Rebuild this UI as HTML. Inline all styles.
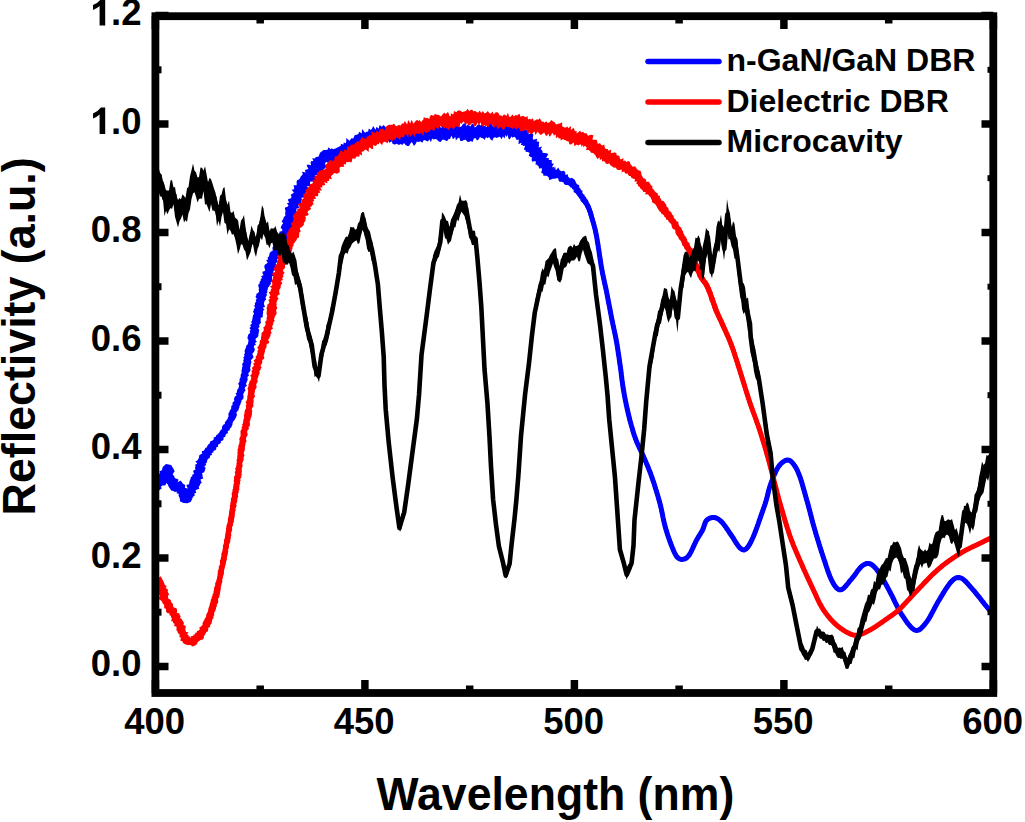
<!DOCTYPE html>
<html><head><meta charset="utf-8"><style>
html,body{margin:0;padding:0;background:#fff;}
svg{display:block;}
text{font-family:"Liberation Sans",sans-serif;font-weight:bold;fill:#000;}
.tk{font-size:36.5px;}
.lg{font-size:32px;}
</style></head><body>
<svg width="1025" height="822" viewBox="0 0 1025 822">
<rect width="1025" height="822" fill="#fff"/>
<g clip-path="url(#c)">
<polyline points="155.5,488.0 156.0,487.0 156.9,485.7 158.2,484.1 159.6,482.1 161.0,480.0 162.2,477.9 163.5,475.3 164.8,472.8 166.0,470.8 167.0,470.0 167.9,471.0 168.5,473.4 169.1,476.4 170.0,479.0 171.2,481.0 172.6,483.0 174.1,484.7 175.5,486.0 178.0,486.2 180.4,487.0 181.2,488.5 181.9,490.7 182.7,493.2 183.5,495.5 184.3,497.3 185.3,498.0 186.4,497.6 187.6,496.4 188.9,494.7 190.2,492.6 191.4,490.3 192.6,488.0 193.4,486.3 194.2,484.4 195.0,482.3 195.8,480.2 196.5,478.0 197.2,475.9 197.9,473.9 198.6,472.0 199.4,469.6 200.1,467.4 200.7,465.2 201.4,463.0 202.1,461.0 203.0,459.0 204.0,457.1 205.1,455.4 206.3,453.7 207.6,452.0 208.9,450.3 210.3,448.5 211.6,446.9 213.0,445.2 214.4,443.6 215.9,441.9 217.4,440.2 218.8,438.5 220.1,436.8 221.3,435.1 222.5,433.5 223.7,431.9 224.8,430.2 225.9,428.6 226.9,426.9 227.9,425.1 228.8,423.3 229.7,421.4 230.5,419.5 231.3,417.6 232.1,415.6 232.9,413.6 233.7,411.5 234.4,409.7 235.2,407.8 235.9,406.0 236.7,404.1 237.4,402.1 238.1,400.1 238.8,398.1 239.5,395.9 240.0,394.1 240.6,392.2 241.1,390.3 241.6,388.4 242.1,386.4 242.6,384.4 243.0,382.4 243.5,380.4 244.0,378.4 244.4,376.4 244.9,374.2 245.3,372.0 245.8,369.9 246.2,367.7 246.6,365.5 247.0,363.3 247.5,361.2 247.9,359.1 248.3,357.0 248.8,354.7 249.3,352.5 249.7,350.4 250.2,348.3 250.7,346.1 251.2,344.0 251.7,341.8 252.2,339.5 252.7,337.5 253.1,335.5 253.5,333.4 254.0,331.4 254.5,329.3 254.9,327.2 255.4,324.9 255.9,322.5 256.5,320.0 256.9,318.3 257.3,316.4 257.7,314.5 258.1,312.5 258.5,310.4 258.9,308.3 259.4,306.2 259.8,304.1 260.3,302.0 260.7,299.9 261.2,297.9 261.6,296.0 262.1,294.1 262.5,292.4 263.1,290.1 263.7,287.9 264.4,285.9 265.0,283.9 265.6,282.0 266.2,280.2 266.9,278.3 267.5,276.5 268.1,274.7 268.7,272.9 269.4,270.8 270.0,268.7 270.6,266.7 271.2,264.6 271.9,262.6 272.5,260.6 273.2,258.8 273.9,257.0 274.6,255.4 275.9,253.2 277.3,251.3 278.7,249.5 280.1,248.0 281.4,246.5 282.4,245.0 283.6,242.9 284.2,241.1 285.0,238.0 285.4,236.4 285.7,234.5 286.1,232.4 286.5,230.1 286.9,227.8 287.3,225.4 287.8,223.0 288.3,220.6 288.9,218.4 289.5,216.4 290.1,214.3 290.8,212.2 291.5,210.1 292.3,208.0 293.0,206.0 293.8,204.0 294.5,202.2 295.1,200.5 295.7,199.0 296.9,196.1 297.9,193.9 298.8,192.1 300.0,190.0 300.9,188.4 301.8,186.8 302.7,185.2 303.8,183.5 305.0,181.6 306.4,179.5 307.4,178.1 308.6,176.5 309.8,174.8 311.2,173.0 312.5,171.2 313.9,169.5 315.2,167.8 316.5,166.2 317.7,164.7 318.7,163.5 320.6,161.1 322.0,159.5 323.4,158.2 325.3,157.0 326.9,156.3 328.7,155.8 330.6,155.4 332.6,155.0 334.8,154.4 337.0,153.5 338.6,152.7 340.3,151.8 342.1,150.8 344.0,149.7 345.9,148.6 347.7,147.5 349.5,146.4 351.1,145.4 352.6,144.5 354.8,143.1 356.6,141.8 358.3,140.6 360.1,139.6 362.3,138.5 364.0,137.8 365.9,137.2 368.0,136.5 370.1,135.9 372.2,135.4 374.3,134.8 376.2,134.4 377.9,134.0 380.7,133.4 383.1,133.0 385.3,132.8 387.6,133.0 389.4,133.5 391.1,134.4 392.9,135.4 394.9,136.4 397.3,137.0 399.2,137.2 401.3,137.4 403.5,137.4 405.9,137.4 408.3,137.4 410.7,137.3 412.8,137.2 414.8,137.0 417.1,136.6 419.1,136.1 420.9,135.5 422.7,134.9 424.5,134.4 426.5,134.0 428.7,133.8 430.9,133.8 433.2,133.9 435.6,134.0 437.8,134.0 440.0,133.8 442.0,133.4 443.9,132.9 445.7,132.2 447.6,131.6 449.5,131.1 451.7,130.9 453.7,130.9 455.8,131.2 457.9,131.5 460.1,131.9 462.5,132.3 464.8,132.6 467.3,132.8 469.3,132.8 471.5,132.8 473.8,132.7 476.1,132.5 478.4,132.4 480.7,132.2 482.8,132.1 484.9,131.9 486.7,131.8 489.5,131.6 491.9,131.4 494.1,131.3 496.2,131.1 498.4,130.9 500.7,130.6 503.1,130.2 505.4,129.8 507.8,129.7 510.1,129.9 512.1,130.5 514.1,131.3 516.2,132.3 518.2,133.4 520.1,134.6 521.8,135.7 523.6,137.0 525.3,138.2 526.7,139.6 528.1,141.0 529.5,142.6 530.8,144.4 532.0,146.4 533.1,148.4 534.2,150.4 535.4,152.3 536.6,153.9 537.9,155.3 539.1,156.6 540.5,158.2 542.0,160.0 543.2,161.7 544.5,163.7 545.9,165.8 547.2,168.0 548.6,170.0 550.0,171.7 551.3,173.0 553.5,174.1 555.6,174.2 557.6,174.1 559.5,174.5 561.2,175.6 562.7,177.0 564.3,178.5 566.0,180.0 568.0,181.3 570.1,182.5 572.2,183.8 574.2,185.5 575.6,187.1 576.8,188.9 578.0,190.9 579.2,192.9 580.5,195.0 581.7,196.8 583.0,198.6 584.4,200.5 585.7,202.4 586.9,204.4 588.0,206.5 588.8,208.3 589.5,210.1 590.2,212.0 590.8,213.9 591.3,215.9 591.9,217.9 592.5,220.0 593.0,221.8 593.5,223.4 594.0,225.1 594.4,226.8 594.9,228.6 595.4,230.7 595.9,233.2 596.5,236.0 596.8,237.6 597.1,239.4 597.4,241.3 597.7,243.3 598.1,245.4 598.4,247.6 598.8,249.9 599.1,252.1 599.4,254.4 599.8,256.7 600.1,259.0 600.5,261.2 600.8,263.3 601.1,265.4 601.5,267.4 601.8,269.2 602.3,271.7 602.7,274.0 603.2,276.2 603.6,278.4 604.1,280.4 604.5,282.4 604.9,284.4 605.4,286.3 605.8,288.4 606.3,290.4 606.7,292.6 607.1,294.6 607.5,296.7 607.9,298.8 608.3,301.0 608.7,303.1 609.2,305.3 609.6,307.4 610.0,309.5 610.4,311.7 610.8,313.8 611.2,315.9 611.6,317.9 612.0,320.1 612.5,322.2 612.9,324.3 613.4,326.4 613.8,328.5 614.3,330.6 614.7,332.7 615.2,334.8 615.6,336.9 616.0,339.0 616.4,341.2 616.8,343.2 617.1,345.3 617.5,347.4 617.8,349.6 618.1,351.7 618.4,353.8 618.8,356.0 619.1,358.1 619.4,360.3 619.7,362.4 620.0,364.4 620.3,366.5 620.6,368.7 620.9,370.9 621.2,373.0 621.4,375.1 621.7,377.2 621.9,379.3 622.2,381.4 622.5,383.5 622.8,385.6 623.1,387.8 623.5,390.0 623.9,392.1 624.2,394.1 624.6,396.2 625.0,398.4 625.4,400.5 625.9,402.7 626.3,404.8 626.8,406.9 627.2,409.1 627.7,411.2 628.2,413.3 628.7,415.3 629.2,417.3 629.7,419.4 630.2,421.4 630.8,423.4 631.3,425.4 631.9,427.4 632.5,429.3 633.0,431.3 633.6,433.2 634.2,435.1 634.9,436.9 635.5,438.7 636.3,440.8 637.1,442.8 638.0,444.8 638.9,446.7 639.8,448.6 640.7,450.5 641.6,452.4 642.5,454.3 643.4,456.2 644.2,458.1 645.0,460.0 645.8,461.9 646.6,463.8 647.4,465.6 648.2,467.5 648.9,469.4 649.7,471.3 650.5,473.3 651.2,475.4 652.0,477.6 652.6,479.4 653.2,481.2 653.9,483.1 654.5,485.0 655.1,487.0 655.7,489.0 656.4,491.0 657.0,493.1 657.6,495.1 658.2,497.1 658.7,499.1 659.3,501.0 659.8,502.9 660.4,505.1 660.9,507.3 661.4,509.5 661.8,511.6 662.3,513.7 662.7,515.9 663.1,518.0 663.6,520.0 664.0,522.0 664.5,524.0 665.0,526.0 665.6,528.1 666.2,530.3 666.9,532.4 667.5,534.5 668.2,536.5 668.9,538.5 669.6,540.4 670.2,542.2 670.9,544.0 671.5,545.6 672.5,548.1 673.5,550.4 674.4,552.6 675.4,554.4 676.3,556.0 677.3,557.3 679.3,558.9 681.2,559.4 683.2,559.2 685.1,558.8 686.9,557.7 689.0,555.3 689.9,553.9 690.9,552.1 691.9,550.0 692.9,547.9 693.9,545.6 694.9,543.5 695.9,541.4 696.8,539.7 698.1,537.4 699.4,535.4 700.5,533.6 701.6,531.8 702.6,530.0 703.4,528.0 704.1,525.8 704.8,523.8 705.5,521.9 706.5,520.4 708.2,519.0 710.2,518.0 712.3,517.5 714.3,517.5 716.2,518.0 718.1,518.9 720.0,520.4 722.1,522.4 723.2,523.7 724.4,525.2 725.7,526.9 726.9,528.8 728.2,530.6 729.4,532.5 730.6,534.3 731.8,536.0 733.1,537.9 734.3,539.9 735.5,541.8 736.7,543.7 737.9,545.4 739.0,546.9 740.0,548.0 742.1,549.6 744.0,550.0 746.0,549.0 747.1,547.9 748.2,546.5 749.4,544.7 750.6,542.5 751.8,540.0 753.1,537.2 753.8,535.6 754.5,533.8 755.3,531.8 756.1,529.7 756.9,527.5 757.7,525.2 758.5,523.0 759.2,520.8 760.0,518.6 760.7,516.6 761.3,514.8 761.9,513.1 762.9,510.3 763.7,508.0 764.4,506.0 765.0,504.2 765.6,502.2 766.3,500.0 766.8,498.2 767.3,496.3 767.8,494.4 768.2,492.4 768.7,490.4 769.3,488.4 769.9,486.4 770.6,484.3 771.3,482.4 772.1,480.3 772.9,478.2 773.8,476.1 774.7,473.9 775.6,471.9 776.5,470.0 777.5,468.3 778.4,466.8 780.1,464.6 781.9,462.8 783.8,461.4 785.6,460.4 787.2,460.0 789.1,460.2 790.8,461.2 792.4,462.8 794.0,464.8 795.0,466.3 796.0,467.9 797.0,469.7 797.9,471.8 798.8,474.0 799.8,476.5 800.4,478.2 801.0,480.0 801.6,481.9 802.2,484.0 802.8,486.1 803.4,488.2 804.0,490.3 804.6,492.3 805.1,494.2 805.6,496.0 806.2,498.2 806.8,500.3 807.4,502.1 807.9,504.0 808.4,505.8 808.9,507.8 809.5,510.0 810.0,511.8 810.4,513.6 810.9,515.5 811.4,517.4 811.9,519.4 812.4,521.4 813.0,523.6 813.7,526.0 814.4,528.5 814.9,530.2 815.5,532.1 816.0,534.0 816.6,536.0 817.3,538.1 817.9,540.2 818.6,542.3 819.2,544.5 819.9,546.7 820.6,548.8 821.2,550.9 821.9,553.0 822.6,555.0 823.2,556.9 823.9,559.1 824.7,561.3 825.4,563.6 826.1,565.8 826.9,568.0 827.6,570.2 828.3,572.3 829.1,574.3 829.8,576.2 830.5,577.9 831.3,579.5 832.0,581.0 833.4,583.6 834.8,585.8 836.2,587.6 837.6,588.9 839.1,589.7 840.7,589.8 842.2,589.3 843.7,588.2 845.3,586.6 846.9,584.7 848.5,582.7 850.1,580.6 851.7,578.8 853.0,577.2 854.4,575.5 855.7,573.7 857.0,571.8 858.3,570.1 859.6,568.5 860.8,567.1 862.0,566.0 864.2,564.5 866.3,563.6 868.4,563.4 870.5,564.0 872.0,564.8 873.4,566.0 874.9,567.5 876.4,569.2 877.9,571.3 879.5,573.5 880.5,575.0 881.5,576.6 882.5,578.2 883.5,580.0 884.6,581.9 885.6,583.8 886.7,585.8 887.8,587.9 888.9,589.9 890.0,592.0 890.9,593.8 891.9,595.7 892.9,597.6 893.8,599.6 894.8,601.7 895.8,603.7 896.8,605.7 897.8,607.7 898.9,609.7 899.9,611.6 900.9,613.3 902.0,615.0 903.3,616.9 904.6,618.9 906.0,620.9 907.3,622.8 908.7,624.5 910.1,626.2 911.4,627.6 912.8,628.8 914.1,629.7 915.3,630.2 917.3,630.4 919.1,629.8 920.9,628.6 922.7,626.8 924.5,624.7 926.4,622.3 927.4,620.9 928.4,619.4 929.4,617.7 930.5,615.9 931.5,613.9 932.6,611.9 933.7,609.9 934.7,607.9 935.8,605.8 936.9,603.9 937.9,602.0 939.0,600.2 940.2,598.3 941.3,596.3 942.5,594.4 943.7,592.4 944.9,590.5 946.1,588.6 947.3,586.8 948.5,585.2 949.6,583.6 950.7,582.3 951.7,581.2 954.2,578.9 956.5,577.7 958.7,577.4 961.2,578.1 962.6,578.9 964.1,580.1 965.7,581.5 967.3,583.2 968.9,585.1 970.6,587.0 972.2,588.9 973.8,590.7 975.1,592.2 976.4,593.8 977.7,595.4 979.1,597.1 980.4,598.8 981.7,600.5 983.0,602.1 984.2,603.7 985.4,605.2 986.5,606.5 988.3,608.6 990.0,610.5 991.5,612.2 993.0,613.8 994.1,615.0 995.0,616.0" fill="none" stroke="#0000ff" stroke-width="5.0" stroke-linejoin="round" stroke-linecap="round"/>
<polygon points="159.1,490.4 160.2,489.4 161.7,488.6 161.0,486.4 162.5,485.6 165.3,485.6 165.9,483.9 166.2,482.2 167.0,480.8 167.5,479.2 168.6,478.1 169.4,477.1 168.4,475.6 169.2,476.7 167.2,476.2 164.7,475.9 164.1,474.9 163.8,475.4 162.7,476.8 165.3,477.8 163.4,480.4 165.1,481.8 166.4,483.3 167.9,484.6 168.5,486.6 169.9,488.6 171.3,490.5 173.3,491.1 174.4,491.7 175.4,491.9 176.6,491.5 176.2,492.1 177.6,491.8 176.2,493.2 178.8,493.8 178.5,495.8 179.7,497.9 180.1,501.6 183.6,503.1 187.6,503.3 190.9,501.8 192.2,498.8 193.0,496.7 194.7,495.7 194.4,493.6 196.3,492.8 195.5,490.6 197.0,489.5 199.3,488.8 198.7,486.8 199.8,485.5 200.2,483.9 201.8,482.8 200.8,480.8 200.7,479.2 203.3,478.5 202.5,476.6 202.6,475.0 202.0,473.2 204.2,472.3 204.6,470.9 205.2,469.4 205.6,468.0 204.2,466.0 206.3,465.2 205.6,463.6 206.9,462.7 206.9,461.2 207.5,460.1 207.9,458.8 209.6,458.3 209.9,456.9 210.2,455.4 212.0,454.9 211.6,452.9 213.4,452.4 213.6,450.7 215.4,450.3 216.3,449.1 216.3,447.3 218.1,446.8 218.0,444.8 219.4,444.0 220.8,443.1 220.9,441.2 222.7,440.6 223.6,439.4 223.5,437.4 225.3,436.8 225.6,435.1 226.5,433.8 228.0,432.9 227.7,430.9 229.6,430.2 229.9,428.6 231.3,427.5 231.8,426.0 232.5,424.5 232.6,422.8 233.2,421.4 234.3,420.2 235.2,418.9 235.9,417.5 236.5,416.1 237.0,414.7 236.3,412.8 237.1,411.5 238.4,410.4 238.6,408.9 239.4,407.6 239.4,406.0 240.3,404.7 240.7,403.2 241.5,401.8 241.5,400.2 243.2,399.1 243.5,397.6 243.6,396.0 243.1,394.3 243.9,392.9 244.6,391.5 245.6,390.2 244.7,388.4 245.2,386.9 247.0,385.8 245.9,384.0 246.6,382.6 247.0,381.2 247.8,379.8 247.4,378.1 247.7,376.6 249.1,375.4 248.2,373.7 249.1,372.3 250.2,371.0 250.5,369.5 250.1,367.9 250.5,366.4 250.7,364.9 251.1,363.5 251.5,362.0 250.9,360.4 251.9,359.1 253.2,357.9 253.5,356.4 252.5,354.7 252.6,353.2 254.0,351.9 254.6,350.6 254.8,349.1 253.9,347.3 254.0,345.8 256.0,344.7 254.9,342.9 256.9,341.8 255.4,340.0 255.9,338.5 257.5,337.3 258.4,336.0 258.4,334.5 258.7,333.0 258.9,331.5 259.3,330.1 258.1,328.3 259.6,327.1 259.2,325.4 259.6,324.0 261.1,322.8 260.5,321.1 260.8,319.6 260.5,318.0 262.9,317.0 262.7,315.4 262.9,313.9 263.2,312.4 263.0,310.9 264.4,309.6 262.7,307.7 265.1,306.7 264.2,305.0 263.9,303.4 264.3,302.0 264.9,300.6 266.2,299.4 265.5,297.7 266.2,296.3 267.0,295.0 266.4,293.4 267.5,292.2 267.1,290.5 267.9,289.3 267.8,287.7 269.2,286.6 269.6,285.2 271.0,284.1 270.6,282.4 272.1,281.4 272.2,279.9 272.0,278.2 271.9,276.5 273.6,275.5 274.6,274.2 273.2,272.2 273.7,270.7 276.0,269.8 274.8,267.9 275.4,266.5 277.0,265.5 275.6,263.5 276.7,262.4 278.0,261.4 276.8,259.5 278.5,258.8 278.5,257.3 281.1,257.4 280.6,255.7 280.7,254.2 281.2,252.9 284.1,253.4 285.2,252.3 285.9,250.7 285.7,248.4 287.7,247.4 287.6,245.2 290.4,244.4 289.6,242.1 290.0,240.3 291.1,238.9 291.0,237.2 291.5,235.7 290.3,233.9 292.2,232.7 293.4,231.3 291.6,229.5 292.8,228.2 293.3,226.8 292.4,225.2 291.9,223.6 294.5,222.8 294.8,221.4 293.6,219.6 296.1,218.9 295.2,217.2 296.6,216.1 295.6,214.3 296.8,213.1 296.6,211.5 296.3,209.9 296.7,208.5 299.6,208.0 298.1,205.8 299.4,204.8 301.4,203.9 301.2,202.3 301.0,200.7 302.0,199.6 301.4,197.8 304.0,197.5 304.7,196.3 305.9,195.4 305.3,193.4 306.2,192.3 307.1,191.2 308.4,190.3 308.3,188.6 307.0,186.1 310.0,186.4 310.3,184.9 310.0,183.0 310.3,181.5 313.2,181.7 313.8,180.4 315.8,180.0 316.3,178.6 314.8,175.6 316.3,174.9 318.2,174.5 318.4,172.8 320.6,172.6 322.0,171.9 323.2,171.0 323.5,169.4 324.7,168.4 325.8,167.5 326.2,166.3 325.0,163.4 325.7,162.5 326.7,162.1 328.7,163.6 328.9,162.2 329.6,161.5 331.4,163.1 332.0,160.4 334.1,162.3 335.3,160.4 337.4,160.9 338.1,157.8 341.1,160.3 342.0,158.2 343.0,156.4 344.8,156.4 345.3,154.2 347.0,153.9 348.1,152.7 350.3,153.5 352.2,153.7 352.8,151.7 353.2,149.5 355.0,149.4 356.9,149.6 358.6,149.3 358.6,146.6 361.3,148.1 362.6,147.6 363.9,147.5 363.4,144.2 365.6,146.1 365.9,143.7 367.7,144.7 368.7,143.9 369.3,141.0 370.8,141.3 372.1,140.4 374.5,143.8 375.9,143.8 377.1,142.7 378.6,143.0 379.4,139.8 381.3,142.5 382.0,139.2 383.1,138.1 384.3,139.0 385.1,141.8 385.7,140.9 386.2,141.5 386.8,142.1 388.6,140.4 389.2,142.7 391.7,141.3 392.7,144.0 394.8,144.5 397.0,143.8 398.8,145.0 400.7,144.0 402.3,145.1 404.0,143.0 405.6,144.9 407.3,146.0 408.9,146.1 410.4,143.4 411.9,142.1 414.0,146.1 415.6,144.1 416.9,141.6 418.8,142.0 420.3,141.2 422.4,142.7 423.4,140.6 424.7,140.1 426.1,140.7 427.3,141.4 428.4,140.9 429.4,139.2 430.8,142.3 432.2,138.5 433.6,139.4 435.2,138.9 436.9,139.6 438.7,141.4 440.7,141.9 442.3,139.7 444.2,139.7 446.3,141.0 447.8,140.4 448.7,138.7 450.0,139.3 450.7,137.3 451.7,135.8 452.8,139.0 453.8,138.7 455.2,136.7 455.9,140.6 457.7,138.2 459.3,137.5 460.4,141.1 462.1,141.1 463.9,140.0 465.7,139.8 467.3,141.8 469.1,141.9 470.8,141.0 472.5,142.0 473.9,138.6 475.4,138.0 477.1,140.5 478.6,139.4 480.0,137.0 481.6,138.1 483.1,138.3 484.7,140.1 486.0,136.9 487.6,138.3 489.0,137.0 490.7,139.4 492.3,140.7 493.6,137.7 495.1,137.2 496.8,138.1 498.3,137.2 499.8,136.7 501.8,139.3 502.9,136.3 504.6,138.5 505.5,135.1 506.7,136.9 507.7,134.5 508.3,138.0 508.8,139.1 509.5,139.4 511.7,136.2 512.3,137.8 514.2,136.7 515.3,137.5 516.1,138.9 516.8,140.2 518.9,139.5 518.5,142.5 518.6,144.2 521.6,142.5 520.9,145.1 522.5,145.1 523.2,146.0 525.3,145.8 524.3,148.0 523.9,149.7 525.5,150.1 525.6,151.7 527.9,152.1 529.7,152.9 528.7,155.6 530.2,156.7 532.0,157.6 531.6,160.1 532.2,161.7 535.3,161.0 535.9,162.3 535.4,164.4 536.9,164.8 537.8,165.8 538.9,166.8 538.9,168.5 541.9,168.3 541.9,170.2 541.1,172.7 543.0,173.4 543.5,175.7 546.5,175.8 548.4,177.1 549.5,180.2 552.5,178.8 554.4,178.8 555.9,178.5 557.3,178.0 558.2,178.5 558.5,179.8 558.8,181.1 559.7,181.7 561.7,181.7 563.3,182.3 564.1,184.0 565.5,184.9 567.3,185.0 568.7,185.5 569.8,186.2 570.3,187.6 571.9,187.7 572.1,189.2 573.6,189.6 573.5,191.3 574.2,192.5 575.7,193.3 576.5,194.5 577.5,195.7 578.5,196.9 579.2,198.3 580.4,199.3 580.6,201.0 581.6,202.1 582.8,203.0 583.6,204.2 584.5,205.3 585.2,206.6 585.7,207.9 586.5,209.1 587.0,210.4 587.4,211.7 588.0,213.1 588.4,214.5 588.8,215.9 589.5,217.2 589.9,218.7 590.2,220.1 590.6,221.6 591.2,223.0 591.6,224.4 592.0,225.8 592.5,227.2 592.9,228.7 593.2,230.1 593.5,231.5 593.9,233.0 594.2,234.4 594.4,235.9 594.7,237.3 595.0,238.8 595.2,240.3 595.5,241.7 595.7,243.2 595.9,244.7 596.2,246.2 596.4,247.6 596.6,249.1 596.8,250.6 597.1,252.1 597.3,253.6 597.5,255.1 597.7,256.5 598.0,258.0 598.2,259.5 598.4,261.0 598.7,262.5 598.9,264.0 599.1,265.5 599.4,266.9 599.6,268.4 599.9,269.9 600.2,271.4 600.5,272.9 600.7,274.4 601.0,275.9 601.4,277.3 601.7,278.8 602.0,280.3 602.3,281.7 602.6,283.2 603.0,284.7 603.3,286.1 603.6,287.6 603.9,289.1 604.2,290.5 604.5,292.0 604.8,293.4 605.1,294.9 605.4,296.4 605.7,297.8 606.0,299.3 606.3,300.8 606.5,302.3 606.8,303.7 607.1,305.2 607.4,306.7 607.7,308.2 608.0,309.6 608.2,311.1 608.5,312.6 608.8,314.1 609.1,315.5 609.4,317.0 609.7,318.5 610.0,320.0 610.3,321.4 610.6,322.9 610.9,324.4 611.2,325.8 611.5,327.3 611.9,328.8 612.2,330.2 612.5,331.7 612.8,333.2 613.1,334.6 613.4,336.1 613.7,337.6 614.0,339.0 614.2,340.5 614.5,341.9 614.8,343.4 615.0,344.9 615.3,346.4 615.5,347.8 615.7,349.3 616.0,350.8 616.2,352.3 616.4,353.7 616.6,355.2 616.9,356.7 617.1,358.2 617.3,359.7 617.5,361.1 617.7,362.6 617.9,364.1 618.1,365.6 618.4,367.1 618.6,368.6 618.8,370.0 619.0,371.5 619.2,373.0 619.3,374.5 619.5,376.0 619.7,377.5 619.9,378.9 620.1,380.4 620.3,381.9 620.5,383.4 620.7,384.9 620.9,386.4 621.1,387.9 621.4,389.4 621.6,390.9 621.9,392.4 622.2,393.9 622.4,395.4 622.7,396.8 623.0,398.3 623.3,399.8 623.6,401.3 623.9,402.8 624.2,404.2 624.5,405.7 624.8,407.2 625.1,408.7 625.4,410.1 625.8,411.6 626.1,413.1 626.5,414.5 626.8,416.0 627.2,417.5 627.5,418.9 627.9,420.4 628.3,421.9 628.7,423.3 629.1,424.8 629.5,426.2 629.9,427.7 630.3,429.1 630.7,430.6 631.2,432.0 631.6,433.5 632.1,434.9 632.6,436.4 633.1,437.8 633.6,439.3 634.1,440.7 634.7,442.1 635.3,443.5 635.9,444.9 636.5,446.3 637.1,447.7 637.8,449.1 638.4,450.4 639.1,451.8 639.7,453.1 640.4,454.5 641.0,455.8 641.6,457.2 642.2,458.5 642.8,459.9 643.4,461.3 644.0,462.6 644.5,464.0 645.1,465.4 645.7,466.8 646.3,468.2 646.8,469.5 647.4,470.9 647.9,472.3 648.5,473.7 649.0,475.1 649.5,476.5 650.0,477.9 650.5,479.3 650.9,480.7 651.4,482.1 651.9,483.5 652.4,484.9 652.8,486.4 653.3,487.8 653.7,489.2 654.2,490.6 654.6,492.1 655.0,493.5 655.5,494.9 655.9,496.3 656.3,497.8 656.7,499.2 657.1,500.6 657.5,502.1 657.9,503.5 658.3,504.9 658.6,506.4 659.0,507.8 659.3,509.3 659.6,510.7 659.9,512.2 660.2,513.6 660.5,515.1 660.8,516.6 661.1,518.1 661.4,519.5 661.7,521.0 662.1,522.5 662.4,524.0 662.8,525.5 663.2,526.9 663.6,528.4 664.0,529.9 664.5,531.3 664.9,532.8 665.4,534.2 665.8,535.6 666.3,537.1 666.8,538.5 667.3,539.9 667.8,541.4 668.3,542.8 668.8,544.2 669.4,545.6 669.9,547.1 670.5,548.5 671.1,549.9 671.7,551.3 672.3,552.7 673.0,554.1 673.8,555.6 674.6,557.0 675.7,558.4 677.1,559.7 678.6,560.7 680.5,561.2 682.4,561.3 684.3,561.0 686.1,560.5 687.7,559.6 689.0,558.3 690.1,557.0 691.1,555.7 692.0,554.3 692.7,552.9 693.4,551.5 694.1,550.1 694.7,548.7 695.3,547.3 696.0,546.0 696.6,544.6 697.2,543.3 697.9,542.0 698.5,540.7 699.3,539.4 700.0,538.1 700.8,536.9 701.6,535.6 702.4,534.3 703.2,533.0 704.0,531.6 704.7,530.2 705.3,528.7 705.8,527.3 706.2,525.9 706.6,524.5 707.1,523.3 707.7,522.2 708.4,521.4 709.4,520.6 710.4,520.1 711.5,519.8 712.6,519.5 713.8,519.5 714.9,519.7 716.1,520.1 717.2,520.7 718.2,521.5 719.2,522.4 720.2,523.3 721.1,524.3 722.0,525.4 722.9,526.5 723.8,527.7 724.6,528.9 725.4,530.1 726.3,531.4 727.1,532.6 727.9,533.8 728.8,535.1 729.6,536.3 730.4,537.6 731.3,538.8 732.1,540.0 732.9,541.3 733.6,542.6 734.5,543.9 735.3,545.2 736.2,546.5 737.2,547.8 738.3,549.1 739.7,550.3 741.4,551.4 743.4,551.9 745.3,551.5 747.1,550.6 748.5,549.3 749.6,547.9 750.6,546.5 751.4,545.1 752.2,543.8 752.9,542.4 753.6,541.0 754.2,539.6 754.8,538.2 755.4,536.8 756.0,535.4 756.6,534.0 757.1,532.5 757.7,531.1 758.2,529.7 758.7,528.3 759.2,526.9 759.7,525.5 760.2,524.0 760.7,522.6 761.2,521.2 761.7,519.8 762.2,518.4 762.7,516.9 763.2,515.5 763.7,514.1 764.2,512.7 764.7,511.3 765.2,509.9 765.7,508.4 766.2,507.0 766.6,505.6 767.1,504.1 767.6,502.7 768.0,501.2 768.4,499.8 768.9,498.3 769.2,496.8 769.6,495.4 769.9,493.9 770.3,492.4 770.7,491.0 771.0,489.6 771.4,488.2 771.9,486.8 772.3,485.4 772.8,484.0 773.3,482.6 773.9,481.2 774.4,479.9 774.9,478.5 775.5,477.1 776.1,475.8 776.7,474.4 777.3,473.1 777.9,471.8 778.5,470.5 779.2,469.3 780.0,468.1 780.8,467.0 781.6,465.9 782.6,465.0 783.5,464.1 784.5,463.3 785.5,462.7 786.5,462.2 787.5,462.0 788.6,462.2 789.5,462.8 790.3,463.5 791.1,464.4 792.0,465.5 792.8,466.6 793.6,467.7 794.3,468.9 795.0,470.2 795.6,471.5 796.2,472.8 796.7,474.1 797.3,475.5 797.8,476.9 798.3,478.2 798.8,479.6 799.2,481.0 799.7,482.4 800.1,483.9 800.5,485.3 800.9,486.7 801.3,488.2 801.7,489.6 802.1,491.0 802.5,492.5 802.9,493.9 803.3,495.4 803.8,496.8 804.2,498.3 804.6,499.7 805.0,501.2 805.4,502.6 805.8,504.0 806.2,505.5 806.6,506.9 807.0,508.4 807.4,509.8 807.8,511.2 808.1,512.7 808.5,514.1 808.9,515.6 809.3,517.0 809.6,518.5 810.0,520.0 810.4,521.4 810.8,522.9 811.1,524.3 811.5,525.8 812.0,527.2 812.4,528.7 812.8,530.1 813.2,531.6 813.6,533.0 814.1,534.5 814.5,535.9 814.9,537.3 815.4,538.8 815.8,540.2 816.3,541.7 816.7,543.1 817.1,544.5 817.6,546.0 818.0,547.4 818.5,548.8 818.9,550.3 819.4,551.7 819.9,553.1 820.3,554.6 820.8,556.0 821.3,557.4 821.7,558.8 822.2,560.3 822.7,561.7 823.1,563.1 823.6,564.5 824.1,566.0 824.6,567.4 825.0,568.8 825.5,570.3 826.0,571.7 826.5,573.1 827.1,574.6 827.6,576.0 828.2,577.4 828.8,578.8 829.4,580.3 830.1,581.7 830.8,583.0 831.6,584.4 832.4,585.8 833.3,587.1 834.4,588.5 835.7,589.8 837.2,590.9 839.1,591.7 841.1,591.7 843.0,591.1 844.6,590.0 845.9,588.8 847.0,587.6 848.1,586.4 849.1,585.2 850.0,584.0 851.0,582.8 851.9,581.7 852.9,580.5 853.8,579.4 854.8,578.2 855.7,577.0 856.6,575.8 857.5,574.5 858.4,573.3 859.3,572.1 860.1,571.0 861.0,569.9 861.9,568.8 862.9,567.9 863.9,567.1 864.9,566.4 866.0,565.9 867.1,565.6 868.2,565.4 869.2,565.7 870.3,566.2 871.3,566.8 872.3,567.7 873.2,568.6 874.1,569.6 875.0,570.7 875.9,571.9 876.7,573.0 877.6,574.2 878.4,575.4 879.2,576.7 880.0,577.9 880.7,579.2 881.5,580.5 882.2,581.7 882.9,583.0 883.6,584.3 884.3,585.7 885.0,587.0 885.7,588.3 886.4,589.6 887.2,590.9 887.9,592.2 888.6,593.6 889.3,594.9 889.9,596.2 890.6,597.5 891.3,598.9 891.9,600.2 892.6,601.6 893.2,602.9 893.9,604.3 894.5,605.6 895.2,607.0 895.9,608.3 896.6,609.7 897.3,611.0 898.1,612.4 898.8,613.7 899.6,615.0 900.5,616.3 901.3,617.6 902.2,618.8 903.0,620.1 903.9,621.3 904.7,622.6 905.7,623.8 906.6,625.1 907.6,626.3 908.6,627.5 909.7,628.7 911.0,629.9 912.4,630.9 914.0,631.8 915.9,632.3 917.9,632.3 919.7,631.7 921.3,630.7 922.7,629.6 923.9,628.4 925.0,627.2 926.0,626.0 927.0,624.8 927.9,623.6 928.8,622.3 929.7,621.1 930.5,619.7 931.3,618.4 932.1,617.1 932.8,615.7 933.6,614.4 934.3,613.1 935.0,611.7 935.7,610.4 936.4,609.1 937.1,607.8 937.8,606.5 938.5,605.1 939.2,603.9 939.9,602.6 940.7,601.3 941.4,600.0 942.2,598.8 943.0,597.5 943.8,596.2 944.6,594.9 945.3,593.6 946.1,592.4 946.9,591.1 947.7,589.9 948.5,588.6 949.3,587.4 950.1,586.2 951.0,585.1 951.9,584.0 952.8,582.9 953.8,582.0 954.7,581.1 955.7,580.4 956.7,579.8 957.8,579.5 958.8,579.5 959.9,579.8 961.0,580.3 962.0,580.9 963.0,581.8 964.0,582.7 965.0,583.7 966.0,584.7 966.9,585.8 967.9,586.9 968.9,588.1 969.9,589.2 970.8,590.3 971.8,591.5 972.8,592.6 973.8,593.7 974.7,594.9 975.7,596.0 976.6,597.2 977.5,598.3 978.4,599.5 979.3,600.7 980.3,601.9 981.2,603.1 982.1,604.2 983.1,605.4 984.0,606.6 985.0,607.8 986.0,608.9 986.9,610.1 988.0,611.2 989.0,612.4 990.0,613.5 991.0,614.6 992.0,615.7 993.0,616.8 993.5,617.4 996.5,614.6 996.0,614.1 995.0,613.0 993.9,611.9 992.9,610.8 991.9,609.7 990.9,608.6 990.0,607.5 989.0,606.4 988.0,605.2 987.1,604.1 986.2,602.9 985.3,601.8 984.3,600.6 983.4,599.4 982.5,598.2 981.6,597.0 980.6,595.8 979.7,594.7 978.8,593.5 977.8,592.3 976.8,591.1 975.8,590.0 974.8,588.9 973.9,587.7 972.9,586.6 971.9,585.4 970.9,584.3 969.9,583.1 968.9,582.0 967.8,580.9 966.7,579.7 965.5,578.6 964.2,577.6 962.7,576.6 961.0,576.0 959.1,575.5 957.3,575.6 955.4,576.0 953.8,576.9 952.4,577.9 951.1,579.0 949.9,580.2 948.9,581.4 947.9,582.6 946.9,583.9 946.0,585.1 945.2,586.4 944.3,587.7 943.5,589.0 942.7,590.3 941.9,591.5 941.1,592.8 940.4,594.1 939.6,595.4 938.8,596.7 938.0,598.0 937.2,599.3 936.5,600.6 935.7,601.9 935.0,603.2 934.2,604.5 933.5,605.9 932.8,607.2 932.1,608.5 931.4,609.9 930.7,611.2 930.0,612.5 929.3,613.8 928.6,615.1 927.9,616.4 927.2,617.6 926.4,618.8 925.6,620.0 924.7,621.2 923.8,622.3 922.9,623.5 922.0,624.5 921.1,625.6 920.2,626.5 919.2,627.3 918.3,628.0 917.3,628.3 916.3,628.3 915.3,628.0 914.3,627.4 913.4,626.7 912.5,625.8 911.5,624.8 910.6,623.7 909.7,622.6 908.8,621.4 908.0,620.2 907.1,619.0 906.3,617.8 905.5,616.6 904.6,615.4 903.8,614.1 903.0,612.9 902.3,611.7 901.5,610.4 900.8,609.1 900.1,607.8 899.5,606.5 898.8,605.2 898.1,603.8 897.5,602.5 896.8,601.2 896.2,599.8 895.5,598.5 894.8,597.1 894.2,595.8 893.5,594.4 892.8,593.0 892.1,591.7 891.4,590.4 890.7,589.1 890.0,587.7 889.3,586.4 888.6,585.1 887.8,583.8 887.1,582.4 886.4,581.1 885.7,579.8 884.9,578.5 884.2,577.1 883.4,575.8 882.6,574.5 881.7,573.2 880.9,572.0 880.0,570.7 879.0,569.4 878.1,568.2 877.1,567.0 876.0,565.8 874.8,564.6 873.5,563.5 872.0,562.5 870.3,561.9 868.4,561.4 866.5,561.6 864.8,562.1 863.1,562.8 861.7,563.8 860.3,564.8 859.1,566.0 858.0,567.2 857.0,568.5 856.1,569.7 855.2,570.9 854.3,572.1 853.4,573.3 852.6,574.5 851.7,575.7 850.7,576.9 849.8,578.0 848.8,579.1 847.9,580.3 846.9,581.5 846.0,582.6 845.1,583.7 844.2,584.8 843.2,585.8 842.4,586.6 841.6,587.3 840.6,587.8 839.7,587.7 838.8,587.3 838.1,586.6 837.3,585.7 836.5,584.7 835.8,583.5 835.0,582.3 834.3,581.1 833.7,579.8 833.0,578.5 832.4,577.2 831.9,575.9 831.3,574.5 830.8,573.1 830.3,571.8 829.8,570.4 829.3,569.0 828.8,567.5 828.3,566.1 827.9,564.7 827.4,563.3 826.9,561.9 826.5,560.4 826.0,559.0 825.5,557.6 825.1,556.2 824.6,554.7 824.1,553.3 823.7,551.9 823.2,550.5 822.7,549.1 822.3,547.6 821.8,546.2 821.4,544.8 821.0,543.3 820.5,541.9 820.1,540.5 819.6,539.1 819.2,537.6 818.8,536.2 818.3,534.8 817.9,533.3 817.5,531.9 817.1,530.5 816.6,529.0 816.2,527.6 815.8,526.2 815.4,524.7 815.0,523.3 814.6,521.8 814.2,520.4 813.9,519.0 813.5,517.5 813.1,516.1 812.8,514.6 812.4,513.1 812.0,511.7 811.6,510.2 811.2,508.8 810.8,507.3 810.5,505.9 810.1,504.4 809.7,503.0 809.3,501.5 808.8,500.1 808.4,498.6 808.0,497.2 807.6,495.7 807.2,494.3 806.8,492.9 806.4,491.4 806.0,490.0 805.6,488.5 805.2,487.1 804.8,485.6 804.3,484.2 803.9,482.7 803.5,481.3 803.0,479.8 802.6,478.4 802.1,476.9 801.5,475.5 801.0,474.0 800.4,472.6 799.8,471.2 799.2,469.8 798.5,468.4 797.8,466.9 797.0,465.6 796.1,464.3 795.1,463.0 794.0,461.7 792.8,460.4 791.3,459.2 789.7,458.3 787.7,458.1 785.8,458.3 784.0,459.0 782.5,459.9 781.1,460.9 779.8,462.1 778.6,463.2 777.6,464.5 776.7,465.8 775.8,467.2 775.0,468.6 774.3,470.0 773.6,471.4 773.0,472.8 772.4,474.2 771.8,475.6 771.2,477.0 770.7,478.4 770.1,479.8 769.6,481.2 769.1,482.7 768.6,484.1 768.1,485.6 767.6,487.0 767.2,488.5 766.8,490.0 766.4,491.5 766.1,492.9 765.7,494.4 765.4,495.8 765.0,497.3 764.6,498.7 764.2,500.1 763.7,501.5 763.3,502.9 762.8,504.3 762.4,505.7 761.9,507.1 761.4,508.6 760.9,510.0 760.4,511.4 759.9,512.8 759.4,514.2 758.9,515.6 758.4,517.0 757.9,518.5 757.4,519.9 756.9,521.3 756.4,522.7 755.9,524.1 755.4,525.5 754.9,526.9 754.4,528.3 753.9,529.7 753.4,531.1 752.9,532.5 752.3,533.9 751.8,535.2 751.2,536.6 750.6,537.9 750.0,539.2 749.3,540.5 748.7,541.8 748.0,543.1 747.3,544.3 746.5,545.4 745.8,546.4 745.1,547.2 744.3,547.7 743.5,547.9 742.6,547.6 741.8,546.9 741.0,546.1 740.2,545.2 739.4,544.1 738.6,542.9 737.8,541.7 737.0,540.4 736.2,539.2 735.4,537.9 734.6,536.6 733.8,535.4 732.9,534.1 732.1,532.9 731.2,531.6 730.4,530.4 729.6,529.1 728.7,527.9 727.9,526.6 727.0,525.3 726.1,524.1 725.1,522.8 724.1,521.6 723.0,520.5 721.8,519.3 720.5,518.3 719.2,517.2 717.6,516.4 715.9,515.8 714.1,515.5 712.3,515.5 710.5,515.9 708.8,516.5 707.1,517.3 705.7,518.5 704.5,519.8 703.6,521.3 702.9,522.9 702.5,524.4 702.0,525.9 701.6,527.3 701.0,528.6 700.4,529.8 699.7,531.1 699.0,532.3 698.2,533.5 697.4,534.8 696.6,536.1 695.8,537.4 695.0,538.8 694.3,540.2 693.7,541.5 693.0,542.9 692.4,544.3 691.7,545.6 691.1,547.0 690.5,548.3 689.8,549.7 689.2,550.9 688.5,552.2 687.8,553.4 687.1,554.4 686.3,555.4 685.5,556.2 684.4,556.8 683.3,557.1 682.3,557.3 681.3,557.3 680.2,557.1 679.3,556.4 678.5,555.6 677.8,554.6 677.1,553.5 676.5,552.3 675.9,551.0 675.3,549.7 674.8,548.3 674.2,546.9 673.6,545.6 673.1,544.2 672.6,542.8 672.1,541.4 671.5,540.0 671.1,538.6 670.6,537.2 670.1,535.8 669.6,534.4 669.2,533.0 668.7,531.6 668.3,530.2 667.9,528.7 667.4,527.3 667.0,525.9 666.7,524.5 666.3,523.0 666.0,521.6 665.6,520.1 665.3,518.7 665.0,517.2 664.7,515.8 664.4,514.3 664.1,512.8 663.8,511.4 663.5,509.9 663.2,508.4 662.9,506.9 662.5,505.4 662.1,504.0 661.8,502.5 661.4,501.0 661.0,499.6 660.6,498.1 660.1,496.7 659.7,495.2 659.3,493.8 658.9,492.3 658.4,490.9 658.0,489.5 657.5,488.0 657.1,486.6 656.6,485.1 656.2,483.7 655.7,482.3 655.2,480.8 654.7,479.4 654.2,478.0 653.7,476.5 653.2,475.1 652.7,473.7 652.2,472.3 651.7,470.9 651.1,469.5 650.5,468.0 650.0,466.6 649.4,465.3 648.8,463.9 648.2,462.5 647.6,461.1 647.1,459.7 646.5,458.3 645.9,456.9 645.3,455.5 644.6,454.2 644.0,452.8 643.3,451.4 642.7,450.1 642.0,448.7 641.4,447.4 640.8,446.0 640.1,444.7 639.5,443.3 638.9,442.0 638.4,440.6 637.9,439.3 637.3,437.9 636.8,436.5 636.4,435.1 635.9,433.7 635.4,432.3 635.0,430.9 634.6,429.4 634.2,428.0 633.7,426.6 633.3,425.2 632.9,423.7 632.6,422.3 632.2,420.8 631.8,419.4 631.4,418.0 631.1,416.5 630.7,415.1 630.3,413.6 630.0,412.2 629.7,410.7 629.3,409.3 629.0,407.8 628.7,406.3 628.4,404.9 628.1,403.4 627.8,402.0 627.5,400.5 627.2,399.0 626.9,397.6 626.6,396.1 626.4,394.6 626.1,393.2 625.8,391.7 625.6,390.2 625.3,388.8 625.1,387.3 624.9,385.8 624.6,384.4 624.4,382.9 624.2,381.4 624.0,379.9 623.9,378.4 623.7,377.0 623.5,375.5 623.3,374.0 623.1,372.5 622.9,371.0 622.7,369.5 622.5,368.0 622.3,366.5 622.1,365.0 621.9,363.5 621.7,362.1 621.5,360.6 621.2,359.1 621.0,357.6 620.8,356.1 620.6,354.6 620.4,353.1 620.1,351.7 619.9,350.2 619.7,348.7 619.4,347.2 619.2,345.7 619.0,344.2 618.7,342.7 618.4,341.2 618.2,339.8 617.9,338.3 617.6,336.8 617.3,335.3 617.0,333.8 616.7,332.4 616.4,330.9 616.1,329.4 615.8,327.9 615.4,326.5 615.1,325.0 614.8,323.5 614.5,322.1 614.2,320.6 613.9,319.2 613.6,317.7 613.3,316.2 613.0,314.8 612.7,313.3 612.4,311.8 612.2,310.3 611.9,308.9 611.6,307.4 611.3,305.9 611.0,304.5 610.8,303.0 610.5,301.5 610.2,300.0 609.9,298.6 609.6,297.1 609.3,295.6 609.0,294.1 608.7,292.7 608.4,291.2 608.1,289.7 607.8,288.2 607.5,286.8 607.2,285.3 606.9,283.8 606.5,282.4 606.2,280.9 605.9,279.4 605.6,278.0 605.3,276.5 605.0,275.1 604.7,273.6 604.4,272.1 604.1,270.7 603.8,269.2 603.6,267.7 603.3,266.3 603.1,264.8 602.8,263.3 602.6,261.9 602.4,260.4 602.1,258.9 601.9,257.4 601.7,255.9 601.5,254.5 601.2,253.0 601.0,251.5 600.8,250.0 600.6,248.5 600.3,247.0 600.1,245.5 599.9,244.1 599.6,242.6 599.4,241.1 599.2,239.6 598.9,238.1 598.6,236.6 598.4,235.1 598.1,233.6 597.8,232.1 597.4,230.7 597.1,229.2 596.8,227.7 596.4,226.2 596.0,224.7 595.7,223.2 595.3,221.8 594.8,220.4 594.5,218.9 594.0,217.5 593.7,216.0 593.4,214.5 592.8,213.1 592.6,211.5 591.9,210.1 591.5,208.6 591.0,207.1 590.4,205.6 589.8,204.1 588.7,202.9 588.3,201.3 587.7,199.8 586.4,198.8 586.1,197.2 584.7,196.3 584.5,194.7 583.0,193.9 582.3,192.6 582.5,190.8 580.8,190.1 580.5,188.4 579.2,187.4 579.2,185.3 577.5,184.5 576.2,183.3 575.6,181.4 574.7,179.7 573.2,178.7 572.0,177.7 569.8,178.5 568.9,177.3 567.9,176.4 568.0,174.2 565.5,174.9 565.2,172.3 563.9,170.7 561.3,171.2 559.5,170.1 558.3,167.5 556.2,170.1 555.4,169.2 555.5,167.0 553.9,168.8 554.9,166.6 552.7,167.5 552.2,166.5 554.0,163.7 551.9,163.5 551.7,161.9 551.8,160.0 548.8,160.1 548.8,158.1 546.1,158.1 548.2,154.3 546.9,153.2 544.7,152.9 542.5,152.8 542.5,150.9 541.6,149.9 540.7,149.0 542.2,146.5 538.5,147.4 539.1,145.4 538.8,143.9 539.3,141.8 536.6,141.4 537.3,138.8 533.0,139.7 532.8,137.6 533.4,134.5 531.9,133.2 528.6,134.3 529.1,130.8 527.3,130.2 525.3,130.1 523.4,129.9 523.4,126.8 520.7,128.0 519.8,126.1 517.8,126.2 515.5,126.8 513.9,126.1 512.9,122.0 510.5,123.1 508.3,124.1 506.4,124.4 504.4,122.8 502.9,125.5 501.3,124.7 499.4,122.3 498.2,124.1 496.7,122.4 495.4,124.0 494.0,124.5 492.7,126.0 490.9,122.8 489.4,122.4 488.0,123.5 486.8,126.9 485.2,125.9 483.7,126.1 482.1,124.0 480.7,125.6 479.1,124.2 477.6,124.8 476.3,126.6 474.9,127.6 473.3,123.7 471.9,123.8 470.6,126.3 469.2,126.0 468.0,124.0 466.6,126.2 465.5,123.7 464.3,123.3 462.8,124.3 461.1,126.7 459.5,126.8 458.1,125.3 456.5,125.0 454.8,123.6 452.8,124.3 450.8,123.8 448.8,124.3 447.3,126.6 445.2,125.3 444.0,127.0 442.1,125.7 441.4,128.3 439.8,126.3 438.6,125.2 437.6,126.4 436.4,125.5 435.2,127.2 433.8,125.1 432.2,124.8 430.6,128.8 429.0,128.9 427.2,128.5 424.9,125.9 423.0,126.3 421.5,127.8 419.4,126.5 419.2,131.3 417.1,128.8 416.5,131.9 414.8,129.4 413.9,132.0 412.6,132.2 411.2,130.9 409.8,131.1 408.4,129.5 407.0,130.8 405.6,128.8 404.2,129.0 402.8,132.4 401.7,129.3 400.1,132.6 399.0,131.9 398.2,130.7 397.5,129.5 395.8,131.0 395.2,129.0 393.4,129.3 392.0,127.9 390.3,126.3 388.3,125.0 385.8,127.5 383.7,125.1 381.8,126.7 379.6,124.9 378.6,128.8 376.5,126.7 375.6,129.7 373.1,126.0 372.1,128.4 370.9,130.1 368.8,128.4 368.1,131.6 366.5,131.8 365.1,132.7 362.0,129.0 361.8,133.4 359.3,131.7 358.3,134.0 356.7,134.7 354.8,135.0 354.0,136.7 353.2,138.4 351.3,138.2 350.5,139.6 349.5,140.7 346.2,138.1 346.3,141.0 345.8,143.2 343.7,142.6 343.3,144.8 341.0,143.8 340.6,146.0 339.3,146.5 338.0,147.2 336.8,147.7 335.7,148.5 334.5,148.8 333.3,149.2 331.7,148.3 330.6,149.3 328.6,147.3 327.5,149.8 325.7,150.0 323.4,150.0 321.7,151.4 320.0,152.7 319.2,155.0 318.4,156.8 315.8,156.9 314.9,158.4 312.3,158.3 313.3,161.0 311.1,161.2 310.5,162.8 311.1,165.2 307.8,164.5 306.6,165.6 308.5,169.0 306.7,169.5 304.9,170.0 305.6,172.5 302.0,171.7 302.8,174.2 301.7,175.4 300.7,176.6 300.1,178.1 299.1,179.4 297.3,180.1 296.6,181.6 296.7,183.5 296.6,185.2 293.5,185.3 294.1,187.4 294.1,189.2 291.6,189.7 293.9,192.6 292.4,193.7 290.7,194.7 291.5,196.8 291.1,198.3 288.4,198.9 287.9,200.3 289.3,202.5 286.9,203.2 288.5,205.5 287.5,206.7 285.0,207.5 284.8,209.0 285.6,210.9 285.2,212.5 285.2,214.1 285.4,215.8 283.8,217.0 283.5,218.6 282.6,220.0 281.6,221.4 283.2,223.3 282.0,224.7 281.4,226.1 280.6,227.5 282.3,229.4 282.1,230.9 279.3,231.8 279.9,233.4 281.1,235.1 279.3,236.2 280.0,237.7 280.5,239.1 278.5,239.7 277.8,240.6 277.2,241.4 277.0,242.5 276.1,243.3 276.1,245.1 275.9,246.7 272.9,246.4 272.4,248.1 272.8,250.5 271.2,251.5 269.8,252.8 269.3,254.5 269.1,256.3 267.6,257.5 268.0,259.4 266.1,260.4 267.8,262.6 266.4,263.8 264.8,264.8 264.3,266.3 264.4,267.8 265.2,269.6 264.8,271.1 262.4,271.8 262.6,273.4 263.5,275.3 261.1,276.1 262.1,278.0 260.8,279.1 260.7,280.7 259.5,282.0 259.7,283.6 258.2,284.8 258.4,286.5 259.0,288.3 258.6,289.8 259.1,291.5 258.1,292.8 256.3,294.0 256.3,295.6 255.4,296.9 256.9,298.8 255.7,300.1 256.2,301.8 254.8,303.0 255.0,304.6 254.1,305.9 255.3,307.7 253.8,308.9 253.8,310.5 252.9,311.8 254.1,313.6 253.2,314.9 252.7,316.4 252.6,317.9 252.3,319.3 252.0,320.8 251.2,322.1 251.9,323.8 250.1,325.0 251.0,326.7 249.3,327.9 250.8,329.7 249.6,331.0 250.3,332.7 248.8,333.9 248.0,335.2 247.7,336.7 247.4,338.2 248.5,340.0 248.3,341.5 248.1,342.9 247.6,344.4 246.3,345.6 246.1,347.1 245.5,348.5 244.8,349.9 244.6,351.4 245.0,353.0 244.0,354.4 244.6,356.0 243.3,357.3 243.9,359.0 243.1,360.4 243.7,362.0 242.5,363.3 242.2,364.8 242.6,366.4 241.9,367.8 242.0,369.3 241.3,370.7 241.8,372.3 241.2,373.7 240.6,375.1 240.7,376.6 240.3,378.1 239.4,379.4 239.7,381.0 239.0,382.4 238.1,383.7 239.1,385.4 238.7,386.9 238.5,388.3 237.4,389.6 236.9,391.0 237.0,392.5 235.6,393.6 236.6,395.4 234.9,396.4 234.4,397.8 233.9,399.2 234.4,400.9 233.0,401.9 232.4,403.3 232.6,404.9 231.2,406.0 231.3,407.6 231.1,409.1 229.8,410.3 229.6,411.8 228.6,413.0 228.3,414.5 228.7,416.3 227.8,417.5 227.6,419.0 226.6,420.1 225.8,421.3 224.8,422.3 224.9,424.0 223.3,424.7 222.5,425.9 221.9,427.1 222.0,429.0 220.9,429.9 220.0,431.1 219.3,432.4 218.3,433.5 217.4,434.6 216.0,435.4 215.6,436.9 213.8,437.3 213.7,439.2 212.9,440.3 211.3,441.0 210.0,441.8 209.7,443.6 208.2,444.4 207.4,445.7 206.9,447.2 205.3,447.9 204.6,449.4 203.7,450.7 201.7,451.2 202.2,453.5 200.5,454.4 199.1,455.6 199.0,457.5 198.3,459.0 197.3,460.4 195.4,461.5 197.3,463.8 195.0,464.7 195.6,466.5 194.9,467.8 195.5,469.5 193.5,470.4 193.1,471.8 194.2,473.7 192.2,474.7 192.3,476.3 190.6,477.2 190.7,478.8 189.9,480.1 189.5,481.4 189.2,482.8 189.1,484.2 186.9,484.7 186.5,486.1 187.8,488.3 186.5,489.1 186.8,490.9 186.0,491.9 183.5,490.9 183.9,491.1 185.4,493.1 186.0,494.2 186.4,493.8 188.4,492.1 186.7,492.3 188.2,490.5 188.3,488.7 184.9,487.8 185.3,484.9 183.0,483.7 181.8,482.0 180.6,480.4 177.8,482.3 178.4,479.7 177.9,479.3 177.6,478.9 176.3,478.7 175.2,478.2 174.4,477.3 174.3,476.1 173.3,475.2 172.7,473.9 174.7,471.2 173.3,468.6 171.1,465.1 166.0,463.9 162.7,467.1 161.9,470.3 159.4,471.2 160.0,473.5 157.5,473.8 156.6,474.9 157.8,477.2 156.2,477.9 155.5,479.0 155.3,480.5 152.9,480.7 153.9,483.3 151.7,483.6 151.1,485.0" fill="#0000ff"/>
<polyline points="155.5,594.0 156.0,592.0 156.5,590.0 157.2,587.1 158.0,584.2 158.8,582.1 159.7,581.6 160.2,582.4 160.8,584.0 161.3,586.2 161.9,588.7 162.5,591.4 163.2,594.0 163.9,596.5 164.6,598.6 165.5,600.6 166.5,602.4 167.6,604.0 168.6,605.7 169.7,607.3 170.8,609.0 171.9,610.8 172.8,612.5 173.7,614.3 174.6,616.1 175.6,617.9 176.5,619.7 177.4,621.6 178.3,623.5 179.2,625.3 180.1,627.2 181.1,629.3 182.0,631.4 182.9,633.5 183.9,635.5 184.8,637.3 185.6,638.8 186.5,640.0 188.6,641.7 190.5,641.8 192.6,641.2 194.3,640.4 196.0,639.1 197.9,637.3 199.8,635.0 200.8,633.7 201.9,632.2 203.0,630.6 204.1,628.9 205.2,627.0 206.3,625.0 207.4,622.8 208.4,620.5 209.1,618.8 209.7,617.1 210.3,615.3 210.9,613.5 211.5,611.6 212.1,609.6 212.7,607.5 213.3,605.4 213.9,603.2 214.5,600.9 215.1,598.6 215.7,596.2 216.1,594.5 216.6,592.7 217.0,590.8 217.4,589.0 217.9,587.0 218.3,585.1 218.7,583.1 219.1,581.1 219.6,579.0 220.0,577.0 220.4,574.9 220.9,572.8 221.3,570.7 221.7,568.5 222.1,566.4 222.6,564.2 223.0,562.1 223.4,560.2 223.8,558.2 224.2,556.2 224.5,554.2 224.9,552.1 225.3,550.1 225.7,548.0 226.1,545.9 226.5,543.8 226.9,541.8 227.3,539.7 227.6,537.6 228.0,535.5 228.4,533.4 228.8,531.3 229.1,529.3 229.5,527.2 229.8,525.2 230.2,523.2 230.6,521.1 230.9,519.0 231.3,516.9 231.7,514.8 232.0,512.7 232.4,510.6 232.7,508.5 233.1,506.5 233.4,504.4 233.8,502.4 234.1,500.3 234.4,498.3 234.8,496.3 235.1,494.4 235.4,492.4 235.7,490.5 236.0,488.6 236.3,486.7 236.6,484.5 237.0,482.3 237.3,480.1 237.6,477.9 237.9,475.7 238.2,473.6 238.5,471.5 238.7,469.4 239.0,467.4 239.3,465.4 239.5,463.5 239.8,461.6 240.0,459.8 240.3,458.0 240.5,456.3 240.9,453.7 241.2,451.2 241.5,449.0 241.8,446.9 242.1,444.9 242.4,442.9 242.7,440.9 243.0,438.9 243.4,436.8 243.8,434.7 244.2,432.5 244.6,430.4 245.1,428.3 245.5,426.2 246.0,424.1 246.4,421.9 246.9,419.6 247.3,417.3 247.7,415.3 248.0,413.2 248.4,411.1 248.7,408.9 249.1,406.8 249.4,404.5 249.8,402.4 250.1,400.2 250.5,398.1 250.8,396.0 251.2,394.0 251.6,391.6 252.1,389.3 252.5,387.1 252.9,384.9 253.4,382.7 253.8,380.6 254.2,378.5 254.7,376.5 255.1,374.5 255.6,372.4 256.0,370.4 256.5,368.5 256.9,366.7 257.4,364.9 257.9,363.0 258.4,361.0 259.0,358.9 259.5,357.1 260.0,355.3 260.6,353.4 261.2,351.4 261.8,349.4 262.4,347.4 263.0,345.4 263.6,343.4 264.2,341.5 264.8,339.5 265.3,337.6 265.9,335.9 266.4,334.2 266.9,332.5 267.4,330.7 267.9,328.9 268.4,327.0 268.9,324.9 269.5,322.6 270.0,320.0 270.3,318.3 270.7,316.5 271.0,314.7 271.3,312.7 271.6,310.6 272.0,308.5 272.3,306.3 272.6,304.1 273.0,301.9 273.3,299.7 273.7,297.4 274.0,295.2 274.4,293.0 274.8,290.8 275.2,288.7 275.6,286.6 276.0,284.6 276.5,282.5 276.9,280.4 277.4,278.3 277.9,276.2 278.4,274.1 278.9,272.0 279.5,269.9 280.0,267.9 280.5,265.9 281.1,263.9 281.6,262.0 282.2,260.1 282.7,258.3 283.2,256.6 283.8,255.0 284.3,253.4 285.2,250.9 286.2,248.6 287.2,246.6 288.2,244.7 289.2,243.0 290.1,241.3 291.1,239.6 292.0,237.9 292.8,236.0 293.6,234.1 294.3,232.1 295.0,230.2 295.6,228.3 296.2,226.4 296.9,224.4 297.5,222.4 298.3,220.4 299.1,218.4 299.9,216.5 300.8,214.6 301.7,212.6 302.6,210.6 303.5,208.6 304.5,206.6 305.5,204.6 306.5,202.7 307.4,200.8 308.4,199.0 309.5,197.0 310.6,195.0 311.7,193.1 312.9,191.2 314.0,189.3 315.1,187.5 316.1,185.9 317.2,184.4 318.1,183.0 319.7,180.9 320.9,179.6 322.3,178.3 324.7,176.0 325.8,174.9 327.1,173.6 328.5,172.2 330.0,170.7 331.6,169.2 333.3,167.6 335.0,165.9 336.7,164.3 338.4,162.8 340.0,161.3 341.5,159.9 343.0,158.7 344.8,157.2 346.6,155.9 348.3,154.7 350.0,153.6 351.7,152.6 353.4,151.5 355.0,150.5 356.7,149.5 358.4,148.5 360.1,147.4 361.9,146.3 363.7,145.3 365.4,144.2 367.2,143.2 368.9,142.2 370.7,141.2 372.4,140.3 374.0,139.5 376.0,138.6 377.9,137.8 379.7,137.1 381.5,136.5 383.3,135.8 385.4,135.2 387.6,134.5 389.3,134.0 391.2,133.4 393.2,132.8 395.3,132.1 397.4,131.5 399.4,130.9 401.5,130.4 403.5,129.9 405.4,129.4 407.1,129.0 409.7,128.6 411.9,128.4 414.0,128.3 416.1,128.2 418.3,128.0 420.7,127.5 422.5,127.0 424.4,126.4 426.3,125.6 428.3,124.8 430.4,124.0 432.4,123.3 434.3,122.6 436.2,121.9 438.0,121.5 440.5,121.1 443.0,121.1 445.3,121.1 447.6,121.2 449.7,121.2 451.7,121.0 453.9,120.4 455.8,119.4 457.6,118.5 459.4,117.6 461.4,117.0 463.6,116.8 465.8,116.8 468.2,116.9 470.6,117.1 473.1,117.3 475.2,117.4 477.4,117.5 479.7,117.6 481.9,117.7 484.3,117.9 486.7,118.2 488.8,118.5 491.0,118.9 493.2,119.4 495.5,119.9 497.8,120.4 500.1,120.8 502.3,121.1 504.6,121.3 506.9,121.5 509.2,121.6 511.5,121.6 513.7,121.7 515.9,121.9 517.9,122.1 520.5,122.6 522.9,123.2 525.1,123.8 527.3,124.4 529.5,125.0 531.7,125.5 533.7,126.0 535.8,126.5 537.8,127.0 540.0,127.3 542.3,127.5 544.7,127.6 547.1,127.6 549.4,127.7 551.7,128.0 553.8,128.5 555.8,129.1 557.7,129.8 559.8,130.6 562.0,131.5 563.8,132.3 565.7,133.2 567.7,134.2 569.8,135.2 571.8,136.2 573.7,137.1 575.5,137.8 577.8,138.5 580.0,138.9 582.1,139.2 584.1,139.7 586.0,140.5 587.8,141.8 589.5,143.5 591.1,145.4 592.8,147.2 594.5,148.7 596.3,149.8 598.1,150.7 600.0,151.5 602.0,152.3 604.2,153.5 605.7,154.4 607.3,155.4 609.0,156.5 610.7,157.6 612.5,158.8 614.3,159.9 616.1,161.1 617.9,162.3 619.6,163.3 621.3,164.4 623.1,165.4 625.0,166.4 626.8,167.5 628.6,168.6 630.3,169.7 631.9,170.8 633.4,172.0 635.1,173.5 636.6,175.1 637.9,176.8 639.2,178.4 640.4,180.2 641.8,181.9 643.2,183.7 644.6,185.3 646.0,186.9 647.4,188.6 648.9,190.3 650.4,192.0 651.9,193.7 653.3,195.5 654.8,197.3 656.1,199.0 657.4,200.7 658.8,202.4 660.1,204.2 661.4,206.0 662.7,207.8 664.0,209.5 665.3,211.2 666.5,212.9 667.8,214.7 669.1,216.4 670.4,218.1 671.6,219.8 672.9,221.4 674.0,223.1 675.2,224.8 676.3,226.5 677.4,228.3 678.4,230.1 679.3,231.9 680.2,233.7 681.2,235.5 682.1,237.3 683.0,239.2 684.0,241.0 685.0,242.8 686.1,244.5 687.1,246.3 688.2,248.0 689.3,249.8 690.3,251.6 691.4,253.5 692.4,255.6 693.2,257.4 694.0,259.3 694.7,261.3 695.5,263.3 696.2,265.4 697.0,267.5 697.7,269.5 698.5,271.5 699.2,273.3 700.0,275.0 701.1,277.1 702.2,278.8 703.3,280.4 704.4,281.9 705.6,283.6 706.7,285.4 707.8,287.6 708.5,289.2 709.2,291.0 709.9,292.9 710.6,294.9 711.3,297.0 712.1,299.0 712.8,301.1 713.5,303.2 714.2,305.2 714.9,307.2 715.6,309.0 716.5,311.1 717.3,313.1 718.2,315.1 719.1,317.0 719.9,318.9 720.8,320.7 721.7,322.6 722.5,324.5 723.4,326.5 724.2,328.3 725.0,330.0 725.8,331.8 726.6,333.5 727.4,335.3 728.2,337.1 729.0,339.0 729.8,340.9 730.6,342.9 731.4,345.0 732.1,346.8 732.7,348.7 733.4,350.5 734.0,352.5 734.7,354.4 735.3,356.5 736.0,358.5 736.7,360.6 737.4,362.8 738.1,365.0 738.8,367.2 739.5,369.5 740.1,371.3 740.6,373.1 741.2,375.0 741.8,376.9 742.4,378.9 743.0,380.8 743.6,382.9 744.3,384.9 744.9,386.9 745.5,388.9 746.1,390.9 746.7,392.9 747.4,394.9 748.0,396.8 748.6,398.7 749.2,400.6 749.9,402.7 750.6,404.7 751.3,406.7 752.0,408.7 752.7,410.7 753.5,412.7 754.2,414.6 754.9,416.5 755.6,418.5 756.3,420.4 756.9,422.3 757.6,424.1 758.3,426.0 758.9,427.9 759.6,429.9 760.2,431.9 760.8,433.8 761.4,435.7 762.0,437.6 762.6,439.5 763.2,441.4 763.8,443.3 764.4,445.2 764.9,447.1 765.5,449.1 766.1,451.1 766.7,453.2 767.2,455.0 767.8,456.9 768.3,458.9 768.8,460.9 769.4,462.9 769.9,464.9 770.4,467.0 771.0,469.0 771.5,471.0 772.0,473.0 772.5,475.0 773.1,476.9 773.6,478.8 774.0,480.6 774.5,482.4 775.1,484.7 775.6,486.8 776.2,488.8 776.7,490.7 777.1,492.6 777.6,494.5 778.1,496.4 778.6,498.3 779.2,500.4 779.8,502.6 780.5,505.0 781.0,506.8 781.5,508.6 782.1,510.5 782.7,512.5 783.3,514.6 783.9,516.6 784.5,518.7 785.1,520.9 785.8,523.0 786.4,525.1 787.1,527.3 787.8,529.3 788.4,531.4 789.1,533.4 789.7,535.3 790.4,537.2 791.1,539.3 791.9,541.3 792.7,543.3 793.4,545.2 794.2,547.1 795.0,549.0 795.8,550.9 796.6,552.7 797.4,554.5 798.1,556.3 798.9,558.1 799.7,559.9 800.5,561.7 801.3,563.5 802.1,565.4 803.0,567.4 803.8,569.3 804.7,571.1 805.5,573.0 806.4,574.9 807.2,576.8 808.1,578.6 808.9,580.4 809.8,582.2 810.6,584.0 811.5,585.8 812.3,587.6 813.2,589.5 814.1,591.5 815.0,593.4 815.9,595.3 816.7,597.2 817.6,599.1 818.5,601.0 819.4,602.8 820.3,604.5 821.3,606.3 822.2,607.9 823.2,609.5 824.4,611.3 825.7,613.1 827.0,614.8 828.3,616.4 829.6,618.0 830.9,619.5 832.3,620.9 833.6,622.3 835.0,623.6 836.3,624.8 838.2,626.5 840.2,628.0 842.2,629.4 844.1,630.7 846.0,631.8 847.8,632.8 849.5,633.6 852.0,634.6 854.0,635.2 856.1,635.3 858.5,635.0 860.1,634.6 861.9,634.0 863.7,633.2 865.7,632.3 867.6,631.3 869.5,630.2 871.4,629.2 873.2,628.1 875.1,627.0 876.9,625.7 878.8,624.5 880.6,623.1 882.6,621.8 884.5,620.4 886.0,619.3 887.6,618.3 889.1,617.2 890.7,616.2 892.2,615.1 893.9,613.9 895.5,612.6 897.2,611.2 899.0,609.6 900.3,608.4 901.5,607.2 902.8,605.9 904.1,604.5 905.4,603.1 906.8,601.6 908.2,600.1 909.6,598.6 911.0,597.0 912.4,595.4 913.9,593.9 915.4,592.3 916.9,590.7 918.3,589.3 919.6,587.9 921.0,586.4 922.5,584.9 924.0,583.3 925.4,581.8 926.9,580.2 928.4,578.7 930.0,577.1 931.5,575.6 933.0,574.1 934.5,572.7 936.0,571.3 937.5,569.9 939.0,568.6 940.7,567.2 942.4,565.8 944.2,564.4 945.9,563.1 947.7,561.8 949.4,560.5 951.2,559.3 952.9,558.1 954.6,557.0 956.3,555.9 958.0,554.8 959.6,553.8 961.2,552.8 963.2,551.6 965.3,550.5 967.2,549.4 969.2,548.4 971.1,547.5 973.0,546.6 974.8,545.8 976.6,545.0 978.4,544.1 980.1,543.3 982.3,542.2 984.5,541.1 986.6,540.1 988.7,539.1 990.7,538.1 992.4,537.3 993.9,536.5 995.0,536.0" fill="none" stroke="#ff0000" stroke-width="5.0" stroke-linejoin="round" stroke-linecap="round"/>
<polygon points="160.1,595.2 160.8,593.8 161.1,592.3 159.8,590.4 162.3,589.6 162.5,588.2 161.8,586.9 161.9,586.4 160.5,585.2 159.1,585.6 156.8,586.6 156.3,586.8 156.7,587.2 158.4,588.2 158.3,589.7 156.9,591.6 158.8,592.7 158.6,594.3 159.7,595.7 159.1,597.6 159.2,599.4 161.0,600.5 162.1,601.8 162.6,603.5 164.0,604.6 164.2,606.3 164.1,608.2 166.0,608.8 166.0,610.5 166.2,612.0 167.4,613.0 169.5,613.4 169.5,615.0 170.9,615.9 171.2,617.4 171.9,618.8 171.0,620.9 172.9,621.6 173.2,623.1 174.7,624.0 173.9,626.1 176.2,626.6 176.7,628.0 176.2,629.9 177.4,630.9 177.6,632.5 178.7,633.7 179.8,634.8 179.2,636.8 181.0,637.8 180.2,640.4 182.3,641.3 183.3,643.3 185.5,644.6 187.9,644.9 190.2,645.1 192.8,646.5 195.1,645.4 196.9,644.2 197.8,642.1 199.2,640.9 200.6,639.9 202.8,639.5 203.8,638.2 203.9,636.2 204.8,634.9 205.6,633.5 206.4,632.1 208.1,631.3 208.2,629.5 208.3,627.7 210.1,626.9 210.1,625.1 211.4,623.9 211.8,622.4 212.0,620.7 212.4,619.2 213.6,618.0 213.4,616.3 214.4,615.0 213.9,613.2 214.7,611.9 215.4,610.5 216.0,609.1 216.0,607.5 216.9,606.2 216.8,604.5 217.8,603.3 218.3,601.8 218.1,600.2 218.1,598.6 219.3,597.4 219.4,595.8 219.8,594.4 220.1,592.9 220.3,591.4 220.6,589.9 220.9,588.4 220.6,586.8 221.4,585.4 221.4,583.9 222.2,582.5 222.3,581.0 222.2,579.4 222.7,578.0 222.9,576.5 223.5,575.1 223.9,573.7 223.8,572.1 223.9,570.6 224.4,569.2 224.6,567.7 225.1,566.2 225.6,564.8 225.8,563.3 226.1,561.8 226.6,560.4 226.9,558.9 226.8,557.4 227.2,555.9 227.8,554.5 227.8,553.0 228.3,551.5 227.9,550.0 228.6,548.6 228.9,547.1 229.0,545.6 229.1,544.1 230.0,542.7 230.3,541.2 230.3,539.7 230.9,538.3 230.7,536.7 231.4,535.3 231.1,533.7 231.2,532.2 231.8,530.8 232.3,529.4 231.9,527.8 232.4,526.3 233.2,525.0 233.0,523.4 233.9,522.0 233.8,520.5 234.1,519.0 234.5,517.6 234.7,516.1 234.8,514.6 234.8,513.0 235.2,511.6 235.8,510.2 235.3,508.6 236.0,507.2 236.7,505.7 236.1,504.1 236.7,502.7 237.3,501.3 237.3,499.8 237.4,498.3 238.2,496.8 237.9,495.3 237.9,493.8 238.8,492.4 238.6,490.8 239.5,489.4 239.2,487.9 239.5,486.4 239.4,484.9 240.3,483.5 239.9,481.9 240.7,480.5 240.1,478.9 241.4,477.5 241.3,476.0 241.7,474.5 241.6,473.0 241.9,471.5 241.7,470.0 241.7,468.5 242.2,467.0 242.7,465.6 242.2,464.0 242.4,462.5 243.2,461.1 243.8,459.7 243.5,458.1 243.9,456.7 244.5,455.3 243.6,453.6 244.0,452.2 244.6,450.7 244.9,449.3 244.8,447.7 245.0,446.2 245.5,444.8 245.4,443.3 246.3,441.9 246.5,440.5 245.9,438.9 246.2,437.4 247.1,436.1 247.8,434.7 247.3,433.1 247.2,431.6 247.6,430.1 249.1,428.9 248.4,427.3 249.8,426.0 249.9,424.5 249.9,422.9 249.7,421.3 250.5,420.0 250.5,418.4 251.4,417.0 251.7,415.5 252.0,414.1 251.9,412.5 252.4,411.1 251.7,409.4 252.1,408.0 253.4,406.6 253.4,405.1 253.2,403.6 253.7,402.1 253.7,400.6 253.5,399.1 254.1,397.7 255.1,396.4 254.4,394.7 254.5,393.2 254.9,391.8 254.9,390.3 255.7,388.9 256.6,387.5 256.5,386.0 256.2,384.4 256.8,383.0 257.8,381.7 257.3,380.1 257.6,378.6 258.2,377.3 258.5,375.8 259.0,374.4 259.8,373.0 259.2,371.4 260.4,370.1 260.7,368.7 261.7,367.4 260.4,365.6 261.4,364.3 262.1,362.9 262.4,361.5 262.1,359.9 263.9,358.9 264.4,357.5 263.6,355.7 264.3,354.3 264.5,352.8 265.0,351.4 265.0,349.9 265.7,348.5 266.6,347.2 266.4,345.6 266.9,344.1 268.9,343.2 269.2,341.7 268.0,339.8 269.4,338.6 269.6,337.1 270.7,335.9 270.3,334.2 271.8,333.0 270.8,331.2 271.2,329.7 273.1,328.6 272.0,326.7 272.7,325.3 273.4,323.9 273.3,322.3 274.7,321.0 273.9,319.3 274.6,317.8 274.9,316.3 276.0,315.0 276.6,313.5 276.5,312.0 276.0,310.4 276.8,309.0 277.2,307.5 276.3,305.8 276.8,304.4 276.3,302.8 277.0,301.4 277.3,299.9 278.7,298.7 277.2,296.9 277.7,295.5 279.8,294.3 279.4,292.8 279.2,291.2 279.3,289.7 280.2,288.4 280.8,287.1 280.7,285.5 281.5,284.2 282.4,282.9 280.6,281.0 283.0,280.0 282.1,278.3 283.3,277.1 283.1,275.5 283.6,274.1 284.6,272.8 283.0,270.9 283.3,269.4 284.9,268.3 285.0,266.8 285.1,265.3 286.3,264.1 287.2,262.9 286.6,261.1 288.7,260.3 288.8,258.8 288.1,257.0 289.7,256.1 288.0,254.0 288.7,252.7 291.4,252.4 291.7,251.0 292.0,249.7 292.5,248.4 292.5,246.8 293.6,245.7 293.5,243.9 294.6,242.8 295.3,241.4 296.5,240.2 297.0,238.6 298.9,237.6 299.1,235.9 299.2,234.3 299.3,232.6 300.7,231.5 300.0,229.6 299.9,228.0 301.9,227.1 302.8,225.9 303.9,224.8 303.8,223.2 304.4,222.0 305.6,220.9 305.3,219.3 306.1,218.0 305.1,216.0 307.8,215.6 308.7,214.4 307.5,212.3 308.2,210.9 309.6,210.0 311.1,209.1 310.1,207.0 311.8,206.2 312.5,204.9 313.7,203.9 312.6,201.7 314.3,200.9 313.6,198.9 316.2,198.7 314.8,196.2 317.9,196.3 318.3,194.9 318.2,193.1 320.4,192.8 319.2,190.3 322.2,190.5 320.1,187.4 322.5,187.4 322.1,185.5 324.1,185.5 325.2,184.7 324.3,182.2 327.5,183.3 327.1,181.0 329.1,180.9 329.1,178.7 331.8,179.3 330.9,176.2 332.1,175.3 333.2,174.3 334.1,173.1 336.9,173.8 338.2,173.0 339.6,172.3 339.8,170.5 339.5,168.0 340.4,166.9 342.4,166.8 344.2,166.8 343.7,164.0 346.0,164.5 346.0,162.3 347.8,162.2 349.2,161.8 351.3,162.5 352.0,161.1 352.1,158.8 353.7,158.6 355.5,158.8 356.0,156.8 357.5,156.4 359.4,156.7 359.6,154.2 362.1,155.4 361.7,151.8 363.4,151.6 364.3,150.3 365.6,149.6 368.8,152.1 368.7,149.1 369.4,147.3 372.2,149.3 373.3,148.5 373.0,144.9 375.1,146.0 376.5,145.6 377.2,143.9 378.8,144.2 379.5,142.2 382.2,145.3 382.8,143.0 383.9,142.1 385.3,141.8 387.4,143.3 388.4,141.8 389.0,138.8 390.9,139.9 392.9,141.2 393.7,138.9 395.6,140.1 396.3,137.1 398.0,137.9 400.1,139.9 400.8,137.1 402.3,136.9 403.9,137.4 404.7,134.9 406.0,134.1 408.1,137.4 408.8,134.1 410.4,136.7 411.6,135.5 412.8,133.8 414.5,136.9 415.8,133.4 417.5,133.7 419.3,134.0 420.8,132.7 423.4,135.9 424.1,131.6 426.4,133.4 427.6,131.7 429.4,132.0 430.3,130.0 431.8,129.6 433.9,131.0 434.8,129.5 435.3,127.0 437.1,128.4 438.5,128.9 439.1,126.1 440.3,125.9 441.7,127.2 442.9,126.9 444.3,128.6 445.7,127.3 447.3,129.0 449.2,130.0 451.0,127.0 453.5,129.6 455.0,126.8 457.0,126.5 459.4,127.4 460.0,125.1 460.4,122.8 461.9,123.9 462.5,122.4 463.5,121.6 464.7,122.9 465.8,125.8 467.1,122.7 468.4,124.9 469.8,125.5 471.5,123.5 473.0,122.9 474.4,125.9 475.9,126.1 477.6,122.6 478.9,125.5 480.5,122.2 481.7,126.1 483.0,126.4 484.5,125.2 485.7,126.0 487.2,125.7 488.2,127.5 490.3,123.7 491.7,124.1 492.9,126.1 493.9,128.3 496.2,124.9 497.1,128.7 498.8,128.6 500.8,126.8 502.2,129.1 503.8,129.9 505.7,126.6 507.2,127.2 508.8,127.0 510.3,127.7 511.7,128.1 513.1,129.2 514.6,126.9 515.7,129.5 517.0,129.1 518.6,127.4 519.5,129.2 520.4,131.4 522.0,130.7 523.2,131.6 525.2,129.8 526.7,130.1 527.5,133.2 529.3,132.5 530.5,134.3 532.2,133.8 534.4,131.2 535.4,134.9 537.7,131.6 539.1,133.4 540.7,135.1 542.5,133.8 544.2,132.4 545.5,135.2 546.9,135.9 548.4,133.4 549.2,136.4 550.3,136.3 552.2,133.1 553.3,134.0 554.0,135.8 555.9,134.3 555.9,138.3 557.9,136.8 558.7,138.6 560.4,138.2 560.8,140.6 563.2,139.0 564.2,140.1 565.8,140.2 567.0,141.2 568.7,141.4 569.3,144.2 571.1,144.5 573.8,142.4 574.4,146.3 576.7,144.6 578.2,145.5 579.9,144.5 581.1,144.6 581.4,146.8 583.3,144.7 582.8,147.2 585.0,145.7 585.7,146.6 586.7,147.5 586.0,150.1 588.6,150.0 590.0,151.0 591.0,152.7 593.0,153.0 594.4,154.2 595.6,155.7 596.5,157.5 597.5,158.9 599.8,157.3 599.9,160.0 602.0,159.0 602.0,161.5 603.9,161.1 605.0,162.1 605.8,163.5 607.2,164.0 609.4,163.4 610.2,165.0 611.4,165.9 612.7,166.7 613.9,167.7 615.8,167.6 616.7,169.2 617.9,170.1 619.8,169.9 621.8,169.5 621.7,172.6 624.2,171.2 624.8,173.0 626.0,173.7 627.8,173.4 628.2,175.1 629.1,176.0 630.7,176.1 631.0,177.6 632.2,178.2 633.4,178.8 635.1,179.2 634.3,181.6 636.9,181.5 636.3,183.8 637.9,184.5 638.2,186.3 639.8,187.0 640.3,188.6 641.7,189.5 642.7,190.6 643.3,192.1 645.8,191.9 645.1,194.5 647.7,194.2 648.7,195.3 649.6,196.4 650.7,197.4 651.2,199.0 652.0,200.2 651.9,202.1 653.3,202.9 654.7,203.7 655.6,204.8 656.5,206.1 657.0,207.5 657.9,208.7 658.6,210.1 659.6,211.2 660.7,212.2 661.3,213.6 662.9,214.4 664.0,215.4 664.4,217.0 666.0,217.7 666.0,219.5 668.0,219.9 668.5,221.4 669.5,222.5 670.6,223.5 671.5,224.7 671.7,226.2 672.2,227.7 672.9,228.9 674.6,229.5 675.4,230.7 675.3,232.5 675.9,233.8 676.5,235.1 677.6,236.2 678.5,237.5 678.7,239.0 680.0,240.1 681.0,241.3 681.6,242.7 682.0,244.3 682.6,245.7 683.9,246.7 684.2,248.3 685.1,249.5 686.1,250.6 686.7,251.9 687.5,253.2 688.3,254.4 689.0,255.6 689.8,256.8 690.6,258.0 691.0,259.4 691.7,260.7 691.5,262.3 692.8,263.4 692.5,265.1 693.6,266.3 693.8,267.8 694.8,269.1 695.2,270.6 695.7,272.0 696.6,273.4 697.0,274.9 697.3,276.5 698.4,277.8 698.9,279.3 700.0,280.5 700.8,281.8 701.8,283.0 702.7,284.1 703.6,285.3 704.1,286.6 705.0,287.7 705.3,289.1 706.3,290.2 706.4,291.7 707.4,292.9 707.8,294.3 708.4,295.6 708.8,297.1 709.0,298.6 709.4,300.0 710.0,301.4 710.8,302.7 711.2,304.2 711.8,305.6 712.2,307.1 712.5,308.6 713.3,309.9 713.6,311.4 714.3,312.8 715.1,314.1 715.8,315.5 716.1,317.0 717.0,318.2 717.6,319.6 718.2,321.0 719.0,322.3 719.4,323.7 720.1,325.1 720.7,326.4 721.2,327.8 722.0,329.1 722.7,330.5 723.4,331.8 723.9,333.2 724.6,334.6 724.9,336.0 725.8,337.3 726.5,338.6 727.0,340.0 727.5,341.4 728.2,342.7 728.5,344.2 729.0,345.6 729.6,346.9 730.3,348.3 730.8,349.7 731.1,351.1 731.8,352.5 732.0,353.9 732.5,355.3 733.0,356.8 733.6,358.2 734.0,359.6 734.5,361.0 735.0,362.4 735.4,363.8 735.7,365.3 736.2,366.7 736.7,368.1 737.2,369.6 737.7,371.0 738.1,372.4 738.6,373.8 739.0,375.3 739.6,376.7 740.0,378.1 740.3,379.6 740.8,381.0 741.3,382.4 741.7,383.8 742.1,385.3 742.6,386.7 743.0,388.2 743.5,389.6 743.9,391.0 744.4,392.5 744.8,393.9 745.3,395.3 745.8,396.8 746.2,398.2 746.7,399.6 747.2,401.1 747.6,402.5 748.1,403.9 748.6,405.3 749.1,406.8 749.6,408.2 750.2,409.6 750.7,411.0 751.2,412.4 751.7,413.8 752.2,415.3 752.8,416.7 753.3,418.1 753.8,419.5 754.3,420.9 754.8,422.3 755.3,423.7 755.8,425.1 756.3,426.5 756.8,427.9 757.3,429.3 757.7,430.7 758.2,432.2 758.7,433.6 759.1,435.0 759.6,436.4 760.0,437.8 760.5,439.3 760.9,440.7 761.3,442.1 761.8,443.6 762.2,445.0 762.6,446.4 763.1,447.9 763.5,449.3 763.9,450.7 764.3,452.2 764.7,453.6 765.1,455.0 765.5,456.5 765.9,457.9 766.3,459.4 766.7,460.8 767.1,462.2 767.5,463.7 767.9,465.1 768.3,466.6 768.7,468.0 769.0,469.5 769.4,470.9 769.8,472.4 770.2,473.8 770.6,475.3 770.9,476.7 771.3,478.2 771.7,479.6 772.1,481.1 772.5,482.5 772.9,484.0 773.2,485.4 773.6,486.9 774.0,488.3 774.4,489.8 774.7,491.2 775.1,492.7 775.5,494.2 775.8,495.6 776.2,497.1 776.6,498.5 777.0,500.0 777.4,501.4 777.8,502.9 778.2,504.3 778.6,505.8 779.1,507.2 779.5,508.7 779.9,510.1 780.3,511.6 780.7,513.0 781.2,514.4 781.6,515.9 782.0,517.3 782.4,518.8 782.9,520.2 783.3,521.6 783.7,523.1 784.2,524.5 784.6,526.0 785.1,527.4 785.5,528.8 786.0,530.3 786.4,531.7 786.9,533.1 787.4,534.6 787.9,536.0 788.4,537.4 788.9,538.9 789.4,540.3 789.9,541.7 790.5,543.1 791.0,544.5 791.6,545.9 792.1,547.3 792.7,548.7 793.3,550.1 793.9,551.5 794.5,552.9 795.1,554.3 795.7,555.7 796.3,557.0 796.9,558.4 797.5,559.8 798.1,561.2 798.7,562.5 799.3,563.9 799.9,565.3 800.5,566.7 801.1,568.0 801.7,569.4 802.3,570.8 802.9,572.2 803.6,573.5 804.2,574.9 804.8,576.3 805.4,577.6 806.1,579.0 806.7,580.4 807.3,581.7 808.0,583.1 808.6,584.5 809.2,585.8 809.9,587.2 810.5,588.5 811.2,589.9 811.8,591.2 812.4,592.6 813.0,593.9 813.7,595.3 814.3,596.7 814.9,598.1 815.6,599.4 816.2,600.8 816.9,602.2 817.5,603.5 818.2,604.9 819.0,606.2 819.7,607.6 820.5,608.9 821.3,610.2 822.1,611.5 823.0,612.8 823.9,614.1 824.8,615.3 825.8,616.5 826.7,617.7 827.7,618.9 828.8,620.0 829.8,621.2 830.8,622.3 831.9,623.4 833.0,624.5 834.1,625.5 835.3,626.6 836.4,627.6 837.7,628.6 838.9,629.5 840.1,630.4 841.4,631.3 842.7,632.2 844.0,633.0 845.4,633.7 846.8,634.5 848.2,635.2 849.7,635.8 851.2,636.5 852.8,637.0 854.5,637.2 856.2,637.3 857.9,637.1 859.6,636.8 861.2,636.3 862.7,635.8 864.1,635.2 865.6,634.5 867.0,633.8 868.3,633.1 869.7,632.4 871.0,631.7 872.4,630.9 873.7,630.2 875.0,629.4 876.3,628.6 877.6,627.7 878.8,626.9 880.1,626.0 881.3,625.1 882.5,624.3 883.8,623.4 885.0,622.5 886.2,621.7 887.4,620.8 888.7,620.0 889.9,619.1 891.2,618.3 892.4,617.4 893.6,616.5 894.9,615.6 896.1,614.7 897.3,613.7 898.5,612.7 899.6,611.7 900.8,610.7 901.9,609.6 903.0,608.5 904.1,607.4 905.1,606.3 906.2,605.2 907.2,604.1 908.2,603.0 909.2,601.9 910.2,600.8 911.2,599.7 912.3,598.6 913.3,597.5 914.3,596.4 915.3,595.3 916.3,594.2 917.3,593.1 918.4,592.1 919.4,591.0 920.5,589.9 921.5,588.8 922.5,587.7 923.6,586.6 924.6,585.6 925.6,584.5 926.7,583.4 927.7,582.3 928.7,581.2 929.8,580.2 930.8,579.1 931.9,578.0 932.9,577.0 934.0,575.9 935.1,574.9 936.1,573.9 937.2,572.9 938.3,571.9 939.4,570.9 940.5,569.9 941.6,569.0 942.8,568.1 943.9,567.1 945.1,566.2 946.3,565.3 947.5,564.4 948.6,563.5 949.9,562.7 951.1,561.8 952.3,561.0 953.5,560.1 954.7,559.3 956.0,558.5 957.2,557.7 958.5,556.9 959.7,556.1 961.0,555.3 962.2,554.5 963.5,553.8 964.8,553.0 966.1,552.3 967.4,551.6 968.7,550.9 970.0,550.3 971.3,549.6 972.7,549.0 974.0,548.4 975.4,547.7 976.7,547.1 978.1,546.5 979.5,545.8 980.8,545.2 982.2,544.5 983.5,543.8 984.9,543.2 986.2,542.5 987.6,541.9 988.9,541.2 990.3,540.5 991.6,539.9 993.0,539.2 994.3,538.6 995.6,537.9 995.9,537.8 994.1,534.2 993.9,534.3 992.5,535.0 991.2,535.6 989.8,536.3 988.5,536.9 987.2,537.6 985.8,538.3 984.5,538.9 983.1,539.6 981.8,540.2 980.4,540.9 979.1,541.6 977.7,542.2 976.4,542.9 975.0,543.5 973.7,544.1 972.3,544.7 970.9,545.4 969.6,546.0 968.2,546.7 966.8,547.4 965.5,548.1 964.1,548.8 962.8,549.5 961.5,550.3 960.2,551.1 958.9,551.9 957.6,552.7 956.3,553.5 955.0,554.3 953.8,555.1 952.5,556.0 951.3,556.8 950.0,557.7 948.8,558.6 947.5,559.4 946.3,560.3 945.1,561.2 943.9,562.1 942.6,563.1 941.4,564.0 940.3,565.0 939.1,565.9 937.9,566.9 936.8,567.9 935.6,568.9 934.5,569.9 933.4,571.0 932.3,572.0 931.2,573.1 930.1,574.1 929.0,575.2 928.0,576.3 926.9,577.4 925.9,578.4 924.8,579.5 923.8,580.6 922.7,581.7 921.7,582.8 920.7,583.9 919.6,585.0 918.6,586.0 917.6,587.1 916.5,588.2 915.5,589.3 914.4,590.4 913.4,591.5 912.4,592.6 911.3,593.7 910.3,594.8 909.3,595.9 908.3,597.0 907.3,598.1 906.3,599.2 905.3,600.3 904.3,601.4 903.2,602.5 902.2,603.6 901.2,604.6 900.2,605.7 899.1,606.7 898.1,607.7 897.0,608.7 895.9,609.7 894.8,610.6 893.6,611.5 892.5,612.4 891.3,613.3 890.1,614.1 888.9,615.0 887.6,615.8 886.4,616.7 885.2,617.5 883.9,618.4 882.7,619.2 881.5,620.1 880.2,621.0 879.0,621.8 877.8,622.7 876.6,623.5 875.4,624.4 874.1,625.2 872.9,626.0 871.6,626.7 870.4,627.5 869.1,628.2 867.8,628.9 866.5,629.6 865.2,630.3 863.9,630.9 862.6,631.5 861.3,632.0 860.0,632.5 858.7,632.9 857.4,633.1 856.2,633.3 854.9,633.3 853.6,633.0 852.4,632.7 851.1,632.1 849.9,631.6 848.6,630.9 847.3,630.2 846.1,629.5 844.9,628.8 843.6,628.0 842.5,627.2 841.3,626.3 840.1,625.4 839.0,624.5 837.9,623.6 836.9,622.6 835.8,621.6 834.8,620.5 833.7,619.5 832.7,618.4 831.7,617.4 830.8,616.3 829.8,615.1 828.9,614.0 828.0,612.9 827.1,611.7 826.3,610.5 825.5,609.3 824.7,608.1 823.9,606.9 823.2,605.6 822.5,604.3 821.8,603.0 821.1,601.7 820.5,600.4 819.8,599.0 819.2,597.7 818.5,596.4 817.9,595.0 817.3,593.6 816.7,592.3 816.0,590.9 815.4,589.5 814.8,588.2 814.1,586.8 813.5,585.5 812.9,584.1 812.2,582.8 811.6,581.4 811.0,580.0 810.3,578.7 809.7,577.3 809.1,576.0 808.4,574.6 807.8,573.2 807.2,571.9 806.6,570.5 806.0,569.2 805.4,567.8 804.8,566.4 804.2,565.1 803.6,563.7 803.0,562.3 802.4,560.9 801.8,559.6 801.2,558.2 800.5,556.8 799.9,555.4 799.3,554.1 798.8,552.7 798.2,551.3 797.6,550.0 797.0,548.6 796.4,547.2 795.8,545.8 795.3,544.4 794.7,543.1 794.2,541.7 793.7,540.3 793.1,538.9 792.6,537.5 792.1,536.1 791.6,534.7 791.2,533.3 790.7,531.9 790.2,530.5 789.8,529.0 789.3,527.6 788.9,526.2 788.4,524.8 788.0,523.3 787.6,521.9 787.1,520.5 786.7,519.1 786.3,517.6 785.8,516.2 785.4,514.7 785.0,513.3 784.6,511.9 784.2,510.4 783.7,509.0 783.3,507.6 782.9,506.1 782.5,504.7 782.1,503.2 781.7,501.8 781.3,500.4 780.9,498.9 780.5,497.5 780.1,496.0 779.7,494.6 779.3,493.2 779.0,491.7 778.6,490.3 778.2,488.8 777.9,487.3 777.5,485.9 777.1,484.4 776.7,483.0 776.3,481.5 776.0,480.1 775.6,478.6 775.2,477.2 774.8,475.7 774.4,474.3 774.1,472.8 773.7,471.4 773.3,469.9 772.9,468.5 772.5,467.0 772.1,465.6 771.8,464.1 771.4,462.7 771.0,461.2 770.6,459.8 770.2,458.3 769.8,456.9 769.4,455.4 769.0,454.0 768.6,452.5 768.2,451.1 767.7,449.6 767.3,448.2 766.9,446.7 766.5,445.3 766.0,443.8 765.6,442.4 765.2,441.0 764.7,439.5 764.3,438.1 763.8,436.6 763.4,435.2 762.9,433.8 762.5,432.3 762.0,430.9 761.5,429.5 761.1,428.0 760.6,426.6 760.1,425.2 759.6,423.8 759.1,422.3 758.6,420.9 758.1,419.5 757.6,418.1 757.1,416.7 756.6,415.3 756.0,413.9 755.6,412.4 755.0,411.0 754.5,409.6 754.0,408.2 753.5,406.8 753.0,405.4 752.5,404.0 752.1,402.6 751.6,401.2 751.1,399.7 750.6,398.3 750.2,396.9 749.8,395.5 749.3,394.1 748.9,392.6 748.4,391.2 748.0,389.8 747.5,388.4 747.1,386.9 746.7,385.5 746.3,384.0 745.8,382.6 745.4,381.2 745.0,379.7 744.5,378.3 744.0,376.9 743.6,375.4 743.1,374.0 742.7,372.6 742.3,371.1 741.9,369.7 741.4,368.3 740.9,366.8 740.5,365.4 740.1,363.9 739.6,362.5 739.1,361.1 738.7,359.7 738.2,358.2 737.8,356.8 737.4,355.3 736.9,353.9 736.5,352.5 735.9,351.1 735.5,349.6 734.9,348.2 734.4,346.8 733.9,345.3 733.5,343.9 733.0,342.4 732.2,341.1 731.7,339.7 731.3,338.2 730.5,336.9 730.0,335.4 729.5,334.0 728.7,332.7 728.2,331.3 727.6,329.9 727.1,328.5 726.4,327.2 725.7,325.9 725.3,324.4 724.6,323.1 723.8,321.7 723.4,320.3 722.6,319.0 722.1,317.6 721.5,316.2 720.8,314.9 720.2,313.5 719.5,312.2 719.2,310.8 718.3,309.5 718.1,308.0 717.7,306.6 717.1,305.3 716.6,303.8 716.0,302.5 715.5,301.1 715.2,299.6 714.7,298.2 714.1,296.8 713.5,295.4 713.1,294.0 712.7,292.5 712.2,291.1 711.3,289.7 711.1,288.1 710.1,286.8 709.6,285.3 709.0,283.8 708.0,282.5 707.5,281.0 706.1,280.0 705.4,278.7 704.8,277.4 704.0,276.3 703.2,275.1 702.6,273.8 701.8,272.6 701.3,271.3 701.3,269.8 700.6,268.5 700.3,267.0 699.4,265.8 698.7,264.4 698.1,263.1 697.8,261.5 697.3,260.1 696.8,258.7 696.2,257.2 695.9,255.6 695.1,254.3 694.2,253.0 693.8,251.5 692.6,250.3 692.7,248.5 691.1,247.6 690.4,246.3 689.8,244.9 689.6,243.3 688.4,242.3 687.3,241.2 687.2,239.6 686.4,238.4 686.1,236.9 684.7,235.9 684.3,234.5 683.3,233.3 683.2,231.7 682.4,230.4 681.7,229.0 681.1,227.5 679.6,226.6 678.9,225.2 678.4,223.7 678.4,221.8 676.3,221.3 676.0,219.7 674.5,218.8 673.8,217.5 673.6,215.8 672.3,214.8 671.7,213.4 671.2,211.9 669.6,211.3 668.6,210.1 668.5,208.3 667.6,207.2 666.3,206.2 666.3,204.4 665.1,203.4 664.4,202.0 663.4,200.9 661.3,200.6 661.1,198.8 659.8,197.9 660.1,195.7 657.9,195.5 657.9,193.5 656.5,192.7 655.1,191.8 654.4,190.4 653.4,189.3 652.2,188.3 652.5,186.1 651.0,185.4 650.3,184.1 649.6,182.7 648.5,181.7 646.1,181.8 646.1,179.9 645.2,178.8 643.6,178.2 642.6,177.1 642.0,175.7 641.3,174.2 641.2,172.1 640.2,170.7 638.3,170.2 636.9,169.1 636.0,167.5 634.8,166.3 632.5,166.7 631.5,165.2 630.4,163.9 629.8,161.9 628.5,161.0 626.2,162.0 625.3,160.4 623.3,160.9 623.4,158.0 620.8,159.5 619.8,158.2 619.5,156.1 618.1,155.6 616.6,155.2 616.3,152.8 614.8,152.5 612.8,152.7 610.9,152.9 611.2,149.5 608.5,150.7 607.7,148.9 605.8,149.0 604.7,147.5 604.3,144.6 602.2,145.6 601.1,144.7 600.4,143.5 599.4,143.2 597.7,143.9 597.5,142.4 597.1,141.2 596.7,139.8 594.4,139.8 592.4,139.4 593.4,135.3 590.9,134.8 587.9,135.7 586.6,133.2 584.5,133.2 583.0,131.7 581.1,132.5 580.3,130.5 578.6,132.1 576.8,133.4 576.4,131.0 574.9,131.3 574.3,129.5 573.5,127.7 570.9,129.9 571.0,126.1 568.3,128.2 567.4,126.5 565.1,127.7 563.7,126.9 562.2,126.3 562.1,122.2 559.9,123.4 558.0,123.8 556.0,124.4 554.7,122.2 553.1,121.4 551.4,119.9 549.3,122.5 547.6,122.9 546.2,121.3 544.6,122.8 543.2,121.6 541.9,121.8 540.8,120.0 539.8,118.3 538.2,119.8 537.0,119.3 535.3,120.3 533.7,120.9 532.9,118.3 531.1,119.6 529.7,118.8 528.0,119.5 527.5,115.9 525.5,117.3 524.1,116.2 522.4,115.9 520.5,116.8 519.3,113.6 517.3,115.5 515.6,115.1 513.9,116.5 512.4,114.4 510.7,116.8 509.2,116.7 508.0,112.7 506.4,116.0 505.1,114.7 503.8,114.4 502.2,116.5 501.0,115.2 499.5,115.5 498.5,112.9 497.2,112.3 495.7,112.3 493.7,114.6 492.7,111.5 490.6,113.8 489.2,113.0 487.8,111.0 485.9,113.0 484.3,113.2 482.9,111.0 481.2,113.0 479.7,110.5 478.1,112.8 476.6,112.1 475.2,110.8 473.7,111.6 472.3,109.8 470.8,109.7 469.2,111.3 467.7,108.7 465.9,111.1 464.1,111.6 462.3,112.0 460.0,110.5 457.8,110.6 456.4,112.3 453.9,111.0 453.6,114.0 452.3,114.2 450.9,113.0 450.7,116.3 449.6,116.0 448.2,112.2 447.2,112.4 445.8,114.2 444.2,112.4 442.5,114.5 440.9,116.6 439.0,115.1 437.0,114.8 434.9,113.9 433.5,115.7 431.4,115.1 429.9,116.0 429.3,119.0 427.2,117.8 425.8,118.3 423.8,117.1 423.3,119.7 422.2,120.6 421.3,122.2 419.4,120.0 418.5,121.1 417.1,120.1 416.0,120.4 414.8,121.9 413.5,123.7 411.6,119.8 410.3,123.5 408.2,120.0 407.1,124.4 404.8,120.9 403.6,123.5 401.9,123.6 400.8,125.4 399.1,125.1 397.6,125.6 396.2,126.3 393.8,123.5 392.6,124.8 391.0,124.7 389.4,124.7 388.0,125.5 386.6,126.2 385.3,127.1 384.9,130.6 382.6,128.5 381.2,129.2 379.4,129.0 379.0,132.5 376.5,130.5 375.6,132.7 373.8,132.6 371.4,131.3 371.6,135.6 369.6,135.0 368.4,136.3 366.8,136.6 366.2,138.7 364.1,138.2 361.5,136.9 361.0,139.1 359.9,140.2 359.0,141.7 356.9,141.1 356.2,142.8 354.7,143.2 353.8,144.7 352.0,144.6 350.5,144.9 350.0,147.2 347.3,145.8 347.3,148.6 346.5,150.3 343.8,149.2 344.0,152.3 340.5,150.3 339.9,152.2 338.9,153.5 338.2,155.3 337.0,156.2 334.9,156.2 334.5,158.2 334.1,160.0 333.2,161.3 329.8,159.9 328.7,161.0 328.3,162.8 326.9,163.6 326.0,164.8 325.3,166.3 325.7,168.8 324.3,169.6 322.5,169.8 320.9,170.3 319.3,170.7 318.4,171.9 316.9,172.8 317.0,175.2 315.1,175.8 314.3,177.4 314.6,179.8 312.4,180.3 313.0,182.7 311.9,183.8 309.8,184.3 309.9,186.2 308.4,187.1 308.0,188.7 305.7,189.2 306.0,191.1 306.3,193.0 304.3,193.7 302.7,194.6 303.9,197.0 303.4,198.5 302.2,199.6 301.0,200.7 301.7,202.7 299.4,203.3 297.9,204.3 299.5,206.8 299.4,208.4 297.1,209.0 297.4,210.8 295.9,211.9 295.0,213.2 293.7,214.3 292.9,215.7 293.0,217.4 294.3,219.6 293.2,220.9 292.6,222.3 290.7,223.3 291.5,225.2 291.9,226.9 290.1,227.8 289.4,229.1 288.4,230.3 288.3,231.7 287.1,232.7 286.4,233.8 286.7,235.4 286.9,237.1 287.2,238.9 285.5,239.6 284.3,240.6 285.1,242.8 282.2,243.1 281.4,244.5 282.1,246.6 281.8,248.3 279.8,249.2 280.7,251.3 279.4,252.5 279.8,254.3 278.1,255.3 277.0,256.7 278.2,258.6 277.8,260.1 277.1,261.5 277.1,263.1 276.7,264.5 274.5,265.5 274.9,267.2 273.5,268.4 274.6,270.3 275.1,272.0 272.5,272.9 272.2,274.4 273.2,276.2 272.8,277.7 272.8,279.2 271.3,280.4 271.9,282.1 272.3,283.8 272.2,285.3 270.0,286.4 271.8,288.3 270.7,289.7 270.7,291.2 268.7,292.4 269.9,294.2 270.4,295.8 269.0,297.1 270.0,298.8 268.3,300.0 269.3,301.7 269.1,303.2 267.3,304.5 267.4,306.0 266.6,307.4 266.7,308.9 267.0,310.5 266.6,311.9 266.6,313.4 266.9,314.9 267.2,316.5 266.5,317.8 266.7,319.4 266.4,320.8 265.0,322.0 265.7,323.7 265.4,325.1 264.6,326.4 263.3,327.5 263.8,329.2 263.6,330.7 262.8,332.0 261.4,333.1 261.6,334.7 261.3,336.2 260.9,337.7 261.2,339.3 260.0,340.5 259.7,342.0 259.7,343.6 258.9,344.9 258.5,346.3 257.2,347.5 258.5,349.4 257.4,350.7 257.6,352.3 257.2,353.8 256.8,355.2 255.6,356.5 255.9,358.1 255.0,359.5 253.5,360.6 254.8,362.6 253.1,363.7 254.1,365.5 253.0,366.8 251.8,368.1 252.7,369.8 251.5,371.1 251.9,372.8 251.6,374.3 250.1,375.5 251.3,377.3 251.1,378.8 250.6,380.2 249.4,381.5 249.2,383.0 248.4,384.4 248.6,386.0 247.9,387.4 247.6,388.9 248.1,390.5 248.1,392.1 247.9,393.5 247.8,395.1 247.2,396.5 247.3,398.0 247.2,399.6 246.4,401.0 245.5,402.3 246.6,404.0 245.7,405.4 246.1,407.0 245.9,408.5 245.1,409.9 244.6,411.3 244.5,412.8 244.3,414.3 243.8,415.7 244.3,417.3 243.7,418.7 243.4,420.1 243.1,421.6 243.1,423.1 242.1,424.4 242.6,426.0 241.5,427.3 241.9,429.0 240.8,430.3 240.4,431.8 240.6,433.3 240.6,434.9 240.5,436.4 239.6,437.8 239.3,439.3 239.7,440.9 239.3,442.4 239.3,443.9 238.3,445.3 238.4,446.8 238.1,448.3 237.5,449.7 237.7,451.3 237.4,452.7 237.6,454.3 237.3,455.8 237.3,457.3 237.3,458.8 236.4,460.2 237.0,461.8 236.4,463.2 236.6,464.8 236.3,466.2 235.6,467.7 235.1,469.1 235.8,470.7 234.6,472.1 235.3,473.7 235.3,475.2 234.0,476.5 234.1,478.0 234.0,479.5 233.6,481.0 234.2,482.6 233.5,484.0 233.5,485.5 233.1,486.9 233.3,488.5 232.4,489.8 232.5,491.4 231.9,492.8 231.6,494.3 232.1,495.9 231.6,497.3 230.9,498.7 230.9,500.2 230.7,501.7 230.3,503.2 230.3,504.7 229.7,506.1 230.1,507.7 229.5,509.1 229.5,510.6 229.1,512.1 229.0,513.6 228.8,515.0 228.7,516.6 228.0,518.0 227.9,519.5 227.8,521.0 227.7,522.5 227.3,523.9 226.4,525.3 226.5,526.8 226.0,528.3 226.2,529.8 225.7,531.2 225.6,532.7 225.3,534.2 225.2,535.7 224.8,537.2 224.7,538.7 223.9,540.0 224.1,541.6 223.9,543.1 223.5,544.5 222.8,545.9 223.2,547.5 222.6,548.9 222.8,550.5 222.2,551.9 221.4,553.3 221.4,554.8 221.5,556.4 220.8,557.7 220.7,559.2 219.9,560.6 220.1,562.2 220.0,563.7 219.8,565.2 218.8,566.5 218.8,568.0 218.5,569.5 217.8,570.9 217.8,572.4 217.6,573.9 217.7,575.4 217.2,576.9 217.0,578.4 216.5,579.8 216.4,581.3 215.4,582.6 215.1,584.1 215.3,585.6 214.4,587.0 214.0,588.4 214.0,589.9 213.5,591.3 213.6,592.9 212.6,594.2 212.5,595.7 211.7,597.0 211.7,598.5 210.7,599.8 210.7,601.4 210.1,602.7 209.7,604.2 209.5,605.7 208.9,607.0 208.4,608.4 208.2,609.9 207.9,611.3 207.4,612.7 206.4,613.9 206.2,615.4 206.0,616.8 205.2,618.0 204.5,619.3 204.0,620.6 203.2,621.8 202.5,622.9 202.7,624.6 201.8,625.8 200.6,626.7 199.3,627.5 199.8,629.5 198.7,630.5 197.1,631.1 196.7,632.5 195.2,632.9 194.9,634.4 193.5,634.6 193.2,636.0 191.9,635.9 191.1,635.9 191.1,638.0 190.5,637.5 190.3,636.6 189.7,637.3 189.9,636.2 188.6,636.4 188.6,635.1 187.1,634.5 188.5,632.3 186.1,631.9 185.6,630.5 185.3,629.0 185.9,627.0 185.3,625.7 183.4,624.8 184.0,622.9 183.2,621.6 182.3,620.3 181.7,618.9 180.1,618.0 180.7,616.1 179.6,614.9 179.4,613.3 176.8,612.9 177.2,611.0 176.9,609.3 176.2,607.9 173.8,607.5 173.0,606.1 173.0,604.3 172.2,603.1 171.0,602.1 171.0,600.4 170.2,599.4 168.5,598.8 168.1,597.5 167.9,596.1 169.0,594.4 168.6,593.2 167.7,592.0 168.0,590.4 167.5,589.1 165.6,587.9 166.8,586.1 164.7,584.9 164.1,582.8 163.0,580.4 160.7,576.3 156.6,579.2 154.3,581.2 154.1,583.9 153.9,585.8 152.3,587.0 152.4,588.6 151.0,589.8 150.5,591.2 150.7,592.8" fill="#ff0000"/>
<polyline points="155.5,178.0 157.8,179.5 161.7,183.4 164.6,198.9 168.5,201.8 174.3,195.0 178.2,216.4 182.1,204.8 186.0,210.6 189.9,191.1 194.8,179.5 198.7,189.2 203.5,181.4 208.4,192.1 214.2,197.0 218.1,214.5 223.0,198.9 227.9,218.4 235.6,226.2 238.6,241.8 243.4,230.0 248.3,251.5 252.2,234.0 256.1,245.6 262.9,218.4 266.8,235.9 274.6,237.9 282.4,245.6 290.1,257.3 296.0,272.9 300.0,287.0 303.0,305.0 306.8,327.3 311.7,344.8 314.6,366.3 318.5,376.0 321.4,354.6 327.3,333.2 332.1,311.8 336.0,290.3 338.9,272.8 340.9,256.0 346.7,244.0 352.6,234.0 358.4,235.0 363.3,218.6 367.0,236.0 372.0,249.6 374.9,265.0 377.9,284.5 379.8,307.9 381.8,331.2 383.7,356.5 384.5,385.0 385.7,409.2 388.7,442.3 392.6,477.3 396.4,506.5 399.4,527.9 404.2,512.4 408.1,485.1 413.0,448.1 416.9,418.9 419.0,395.0 421.5,355.0 426.6,316.0 430.0,289.0 433.5,262.5 438.0,251.0 440.3,242.0 442.4,221.0 447.3,231.0 450.0,234.0 455.0,217.0 460.0,205.5 466.0,208.0 469.5,227.0 471.6,236.6 475.5,238.5 477.4,258.0 479.4,281.2 481.3,306.5 482.5,330.0 484.5,369.0 487.5,404.0 489.5,437.0 491.0,466.3 493.1,499.5 496.0,524.8 498.9,546.2 502.8,561.8 505.7,575.4 509.6,563.7 511.6,544.2 514.5,518.9 516.4,499.5 518.4,475.0 521.0,436.0 525.1,394.2 529.0,363.1 532.0,335.0 534.8,312.4 540.7,285.1 546.5,269.5 552.0,258.0 556.0,260.0 559.5,279.0 563.0,260.0 570.5,255.0 578.5,251.0 584.0,242.5 588.7,254.0 593.0,266.0 596.0,294.5 599.9,323.7 602.8,349.0 605.7,376.3 607.5,395.0 609.2,419.2 612.1,448.4 615.0,477.6 617.0,506.8 619.9,549.5 623.8,563.1 626.7,574.8 631.6,563.1 633.5,545.6 634.5,520.0 638.4,483.4 641.3,458.1 644.2,428.9 646.2,401.7 649.5,366.5 655.4,333.4 659.3,317.9 665.1,296.4 669.0,314.0 672.9,296.4 677.8,317.9 680.7,288.7 684.6,265.3 692.4,263.4 698.2,243.9 700.0,248.7 702.0,268.1 707.8,237.0 711.7,272.0 715.6,248.7 721.4,227.3 724.3,248.7 727.3,214.6 731.1,237.0 735.0,240.9 737.5,258.0 740.0,278.0 742.5,297.0 747.0,310.0 750.0,324.0 750.6,336.3 752.6,351.8 755.0,361.7 758.9,379.2 762.8,404.5 766.7,433.7 770.6,453.2 772.6,476.5 776.4,505.0 779.4,521.9 782.7,543.8 786.0,565.7 788.2,587.6 792.6,605.1 796.9,627.0 801.3,648.9 807.9,657.7 812.3,648.9 816.6,631.4 825.4,637.9 832.0,640.1 836.3,651.1 842.9,653.3 847.3,664.2 853.9,648.9 860.4,631.4 866.5,609.6 874.5,591.0 880.5,578.0 886.0,568.0 896.0,547.0 902.7,565.4 912.2,587.6 918.5,559.1 928.0,556.0 935.9,546.5 942.2,527.5 951.7,530.7 959.6,546.5 964.3,511.7 972.2,521.2 977.0,499.0 981.7,480.1 986.5,467.4 995.0,450.0" fill="none" stroke="#000000" stroke-width="4.6" stroke-linejoin="round" stroke-linecap="round"/>
<polygon points="155.5,169.3 157.0,166.2 158.5,167.5 160.0,172.7 161.5,174.4 163.0,181.3 164.5,185.2 166.0,190.3 167.5,190.4 169.0,190.4 170.5,180.4 172.0,179.9 173.5,187.6 175.0,187.0 176.5,196.9 178.0,199.9 179.5,198.1 181.0,199.3 182.5,194.3 184.0,195.9 185.5,198.1 187.0,188.2 188.5,187.0 190.0,176.3 191.5,170.2 193.0,163.6 194.5,170.8 196.0,172.3 197.5,177.4 199.0,177.1 200.5,167.4 202.0,167.8 203.5,170.8 205.0,166.2 206.5,174.0 208.0,182.3 209.5,177.8 211.0,179.2 212.5,183.5 214.0,188.4 215.5,192.7 217.0,200.8 218.5,206.6 220.0,195.8 221.5,194.6 223.0,188.4 224.5,187.1 226.0,199.5 227.5,204.7 229.0,200.6 230.5,212.0 232.0,212.9 233.5,210.8 235.0,217.6 236.5,218.8 238.0,220.3 239.5,230.0 241.0,220.5 242.5,218.7 244.0,215.0 245.5,227.1 247.0,236.9 248.5,244.2 250.0,233.8 251.5,225.6 253.0,230.0 254.5,232.1 256.0,239.5 257.5,225.8 259.0,223.7 260.5,216.4 262.0,205.2 263.5,208.5 265.0,219.4 266.5,223.6 268.0,221.3 269.5,231.1 271.0,228.2 272.5,228.5 274.0,228.5 275.5,226.0 277.0,231.6 278.5,233.9 280.0,232.4 281.5,235.1 283.0,232.0 284.5,234.0 286.0,236.8 287.5,244.6 289.0,245.8 290.5,251.5 292.0,253.5 293.5,251.6 295.0,255.9 296.5,260.4 298.0,271.9 299.5,277.5 301.0,282.0 302.5,289.5 304.0,300.1 305.5,313.3 307.0,315.8 308.5,322.5 310.0,332.0 311.5,336.4 313.0,342.7 314.5,357.7 316.0,360.0 317.5,369.1 319.0,361.6 320.5,355.2 322.0,341.1 323.5,339.6 325.0,335.5 326.5,324.8 328.0,321.6 329.5,315.5 331.0,306.2 332.5,302.7 334.0,294.4 335.5,286.0 337.0,278.0 338.5,267.3 340.0,253.9 341.5,246.2 343.0,242.5 344.5,239.2 346.0,236.6 347.5,236.9 349.0,233.2 350.5,226.6 352.0,227.5 353.5,227.1 355.0,229.6 356.5,229.3 358.0,223.6 359.5,221.4 361.0,213.8 362.5,212.1 364.0,212.3 365.5,219.8 367.0,226.8 368.5,229.3 370.0,231.7 371.5,238.6 373.0,243.4 374.5,256.5 376.0,266.1 377.5,276.0 379.0,287.5 380.5,309.8 382.0,324.7 383.5,343.6 385.0,389.1 386.5,411.4 388.0,425.1 389.5,444.3 391.0,456.2 392.5,471.3 394.0,480.7 395.5,493.1 397.0,506.7 398.5,515.0 400.0,522.6 401.5,514.0 403.0,511.9 404.5,506.1 406.0,494.6 407.5,483.3 409.0,470.4 410.5,462.0 412.0,448.6 413.5,439.5 415.0,425.2 416.5,416.9 418.0,398.3 419.5,381.7 421.0,357.7 422.5,339.6 424.0,327.4 425.5,317.6 427.0,304.2 428.5,294.9 430.0,283.3 431.5,270.0 433.0,255.5 434.5,250.9 436.0,248.1 437.5,244.9 439.0,236.2 440.5,232.9 442.0,212.3 443.5,213.9 445.0,216.9 446.5,220.7 448.0,221.0 449.5,227.0 451.0,219.6 452.5,216.7 454.0,214.2 455.5,209.5 457.0,204.6 458.5,202.4 460.0,194.5 461.5,200.4 463.0,200.7 464.5,200.8 466.0,200.1 467.5,203.0 469.0,216.7 470.5,223.5 472.0,231.1 473.5,230.4 475.0,231.1 476.5,243.1 478.0,258.8 479.5,276.8 481.0,295.2 482.5,321.2 484.0,349.9 485.5,371.8 487.0,391.3 488.5,410.8 490.0,438.8 491.5,469.8 493.0,490.0 494.5,504.7 496.0,520.3 497.5,530.1 499.0,539.8 500.5,546.7 502.0,552.4 503.5,560.6 505.0,568.0 506.5,569.5 508.0,562.9 509.5,558.1 511.0,544.5 512.5,529.4 514.0,517.3 515.5,501.9 517.0,484.8 518.5,468.9 520.0,443.1 521.5,422.6 523.0,408.4 524.5,393.0 526.0,378.0 527.5,366.5 529.0,357.3 530.5,339.6 532.0,326.4 533.5,317.3 535.0,301.9 536.5,294.8 538.0,288.8 539.5,282.2 541.0,272.8 542.5,268.2 544.0,270.6 545.5,261.1 547.0,259.8 548.5,258.3 550.0,255.1 551.5,252.8 553.0,250.1 554.5,248.5 556.0,248.2 557.5,261.0 559.0,267.5 560.5,268.1 562.0,256.8 563.5,253.1 565.0,252.4 566.5,253.0 568.0,247.6 569.5,246.2 571.0,245.6 572.5,247.7 574.0,243.8 575.5,246.2 577.0,245.7 578.5,245.1 580.0,241.0 581.5,238.9 583.0,236.9 584.5,236.3 586.0,235.4 587.5,240.9 589.0,242.6 590.5,248.4 592.0,252.5 593.5,260.1 595.0,277.7 596.5,286.8 598.0,301.2 599.5,313.6 601.0,322.1 602.5,337.4 604.0,352.1 605.5,368.6 607.0,383.9 608.5,401.9 610.0,418.1 611.5,435.7 613.0,452.2 614.5,466.7 616.0,487.0 617.5,507.8 619.0,529.5 620.5,546.3 622.0,551.7 623.5,558.1 625.0,560.6 626.5,568.6 628.0,564.7 629.5,563.2 631.0,559.1 632.5,546.9 634.0,524.8 635.5,506.1 637.0,487.5 638.5,474.8 640.0,462.5 641.5,446.4 643.0,430.0 644.5,418.9 646.0,395.5 647.5,375.6 649.0,361.3 650.5,351.5 652.0,346.1 653.5,336.0 655.0,324.0 656.5,321.6 658.0,311.1 659.5,309.6 661.0,300.2 662.5,295.7 664.0,287.9 665.5,288.5 667.0,288.9 668.5,297.2 670.0,300.2 671.5,286.1 673.0,289.6 674.5,291.2 676.0,298.6 677.5,302.7 679.0,296.1 680.5,279.6 682.0,265.9 683.5,255.4 685.0,251.8 686.5,251.8 688.0,252.9 689.5,256.9 691.0,254.8 692.5,249.7 694.0,247.6 695.5,237.5 697.0,238.3 698.5,235.3 700.0,239.1 701.5,254.8 703.0,244.9 704.5,238.5 706.0,228.0 707.5,230.3 709.0,231.3 710.5,246.0 712.0,261.7 713.5,251.5 715.0,241.2 716.5,226.4 718.0,220.6 719.5,222.0 721.0,214.5 722.5,226.8 724.0,237.1 725.5,224.7 727.0,199.0 728.5,208.5 730.0,213.4 731.5,228.9 733.0,221.2 734.5,223.7 736.0,235.9 737.5,239.4 739.0,259.4 740.5,270.7 742.0,285.6 743.5,282.8 745.0,287.0 746.5,298.8 748.0,297.6 749.5,310.5 751.0,328.1 752.5,335.2 754.0,343.1 755.5,349.5 757.0,358.3 758.5,367.8 760.0,372.8 761.5,387.9 763.0,397.6 764.5,410.7 766.0,419.8 767.5,424.9 769.0,437.4 770.5,446.2 772.0,459.0 773.5,476.3 775.0,485.2 776.5,495.7 778.0,504.9 779.5,512.7 781.0,524.5 782.5,533.7 784.0,546.5 785.5,557.1 787.0,568.5 788.5,582.7 790.0,588.3 791.5,593.1 793.0,599.0 794.5,608.9 796.0,615.3 797.5,626.0 799.0,633.3 800.5,637.9 802.0,643.1 803.5,645.3 805.0,649.4 806.5,650.1 808.0,653.2 809.5,650.2 811.0,647.4 812.5,643.6 814.0,636.0 815.5,632.1 817.0,625.6 818.5,628.7 820.0,628.4 821.5,631.5 823.0,631.6 824.5,632.1 826.0,634.4 827.5,634.3 829.0,635.0 830.5,635.1 832.0,634.4 833.5,636.0 835.0,642.0 836.5,643.7 838.0,648.1 839.5,647.4 841.0,647.9 842.5,646.7 844.0,651.5 845.5,652.2 847.0,659.6 848.5,655.1 850.0,652.6 851.5,647.0 853.0,645.6 854.5,637.7 856.0,637.0 857.5,628.2 859.0,626.8 860.5,619.6 862.0,614.2 863.5,609.1 865.0,603.8 866.5,601.0 868.0,594.4 869.5,595.2 871.0,589.4 872.5,588.8 874.0,580.7 875.5,582.5 877.0,573.6 878.5,569.6 880.0,568.1 881.5,564.9 883.0,563.8 884.5,561.0 886.0,558.0 887.5,558.3 889.0,551.2 890.5,545.6 892.0,544.9 893.5,541.6 895.0,542.4 896.5,541.8 898.0,541.5 899.5,544.6 901.0,548.1 902.5,554.2 904.0,558.0 905.5,557.9 907.0,562.3 908.5,566.9 910.0,574.8 911.5,579.1 913.0,570.7 914.5,564.7 916.0,563.6 917.5,550.9 919.0,544.8 920.5,549.0 922.0,550.3 923.5,551.4 925.0,549.2 926.5,551.3 928.0,549.4 929.5,542.6 931.0,544.5 932.5,543.2 934.0,536.6 935.5,532.6 937.0,531.3 938.5,531.0 940.0,521.5 941.5,515.3 943.0,515.1 944.5,520.9 946.0,520.9 947.5,519.5 949.0,519.6 950.5,520.2 952.0,519.0 953.5,524.6 955.0,530.2 956.5,528.0 958.0,532.9 959.5,538.5 961.0,523.4 962.5,518.1 964.0,505.8 965.5,506.1 967.0,502.3 968.5,503.9 970.0,510.4 971.5,512.8 973.0,509.5 974.5,494.8 976.0,492.3 977.5,489.5 979.0,477.6 980.5,470.5 982.0,461.6 983.5,465.0 985.0,463.2 986.5,455.1 988.0,455.8 989.5,453.2 991.0,439.6 992.5,444.9 994.0,438.2 995.0,434.2 995.0,459.2 994.0,467.5 992.5,470.0 991.0,467.7 989.5,475.3 988.0,480.9 986.5,477.8 985.0,484.9 983.5,492.8 982.0,494.8 980.5,497.2 979.0,502.1 977.5,511.0 976.0,513.5 974.5,525.5 973.0,530.7 971.5,527.2 970.0,534.3 968.5,528.2 967.0,523.9 965.5,522.7 964.0,524.5 962.5,535.3 961.0,543.1 959.5,554.9 958.0,556.9 956.5,550.9 955.0,545.4 953.5,541.1 952.0,544.3 950.5,542.8 949.0,536.5 947.5,534.7 946.0,535.0 944.5,538.2 943.0,537.5 941.5,539.0 940.0,544.6 938.5,554.5 937.0,557.8 935.5,558.5 934.0,558.5 932.5,561.6 931.0,565.5 929.5,567.6 928.0,567.9 926.5,562.5 925.0,563.6 923.5,563.8 922.0,568.0 920.5,564.1 919.0,567.7 917.5,571.3 916.0,579.6 914.5,590.9 913.0,591.3 911.5,595.1 910.0,596.3 908.5,591.6 907.0,589.7 905.5,579.3 904.0,577.9 902.5,571.6 901.0,573.8 899.5,563.8 898.0,559.4 896.5,557.6 895.0,558.1 893.5,559.7 892.0,563.4 890.5,571.7 889.0,570.1 887.5,576.4 886.0,577.9 884.5,582.4 883.0,584.4 881.5,584.8 880.0,589.6 878.5,589.3 877.0,591.9 875.5,599.2 874.0,605.0 872.5,603.4 871.0,607.8 869.5,611.3 868.0,613.2 866.5,621.4 865.0,622.1 863.5,626.9 862.0,635.3 860.5,639.0 859.0,640.8 857.5,650.4 856.0,649.0 854.5,657.8 853.0,658.5 851.5,664.1 850.0,664.0 848.5,668.5 847.0,669.1 845.5,668.6 844.0,663.1 842.5,658.3 841.0,659.0 839.5,658.1 838.0,658.0 836.5,656.3 835.0,652.8 833.5,652.5 832.0,646.1 830.5,644.9 829.0,645.0 827.5,642.6 826.0,643.3 824.5,640.8 823.0,641.1 821.5,638.7 820.0,638.8 818.5,636.6 817.0,636.1 815.5,640.8 814.0,646.4 812.5,653.8 811.0,655.8 809.5,659.3 808.0,661.9 806.5,659.4 805.0,660.0 803.5,656.9 802.0,654.7 800.5,650.6 799.0,641.9 797.5,634.9 796.0,629.8 794.5,622.0 793.0,611.6 791.5,607.7 790.0,600.0 788.5,597.6 787.0,581.6 785.5,571.4 784.0,558.3 782.5,548.3 781.0,539.5 779.5,529.3 778.0,519.8 776.5,516.0 775.0,504.2 773.5,491.5 772.0,478.2 770.5,462.1 769.0,451.7 767.5,451.3 766.0,442.3 764.5,427.9 763.0,412.9 761.5,409.1 760.0,393.6 758.5,387.4 757.0,380.4 755.5,378.0 754.0,371.4 752.5,359.7 751.0,351.3 749.5,331.4 748.0,331.7 746.5,320.8 745.0,311.9 743.5,314.0 742.0,308.7 740.5,292.4 739.0,285.7 737.5,272.8 736.0,258.8 734.5,258.8 733.0,249.4 731.5,246.2 730.0,239.1 728.5,239.6 727.0,226.6 725.5,247.4 724.0,260.4 722.5,249.0 721.0,239.5 719.5,252.0 718.0,250.3 716.5,254.8 715.0,264.2 713.5,269.1 712.0,278.4 710.5,273.3 709.0,256.1 707.5,253.7 706.0,258.4 704.5,273.9 703.0,280.4 701.5,275.5 700.0,257.2 698.5,261.8 697.0,260.4 695.5,271.7 694.0,270.6 692.5,273.0 691.0,278.3 689.5,275.2 688.0,271.8 686.5,273.0 685.0,275.3 683.5,287.8 682.0,290.7 680.5,302.7 679.0,313.5 677.5,333.1 676.0,319.8 674.5,317.4 673.0,302.2 671.5,316.8 670.0,318.9 668.5,322.7 667.0,318.1 665.5,309.5 664.0,307.5 662.5,314.9 661.0,323.6 659.5,324.4 658.0,335.6 656.5,337.5 655.0,344.4 653.5,357.6 652.0,364.7 650.5,371.0 649.0,383.3 647.5,398.5 646.0,414.5 644.5,431.0 643.0,447.6 641.5,465.9 640.0,479.3 638.5,487.2 637.0,503.4 635.5,518.4 634.0,537.1 632.5,562.3 631.0,570.2 629.5,572.9 628.0,576.3 626.5,579.8 625.0,572.2 623.5,566.8 622.0,561.8 620.5,557.3 619.0,541.7 617.5,521.8 616.0,497.5 614.5,477.2 613.0,462.2 611.5,447.5 610.0,436.9 608.5,415.1 607.0,399.6 605.5,380.2 604.0,367.6 602.5,353.2 601.0,340.0 599.5,330.6 598.0,317.0 596.5,304.4 595.0,290.8 593.5,280.7 592.0,271.9 590.5,265.0 589.0,264.3 587.5,263.2 586.0,258.9 584.5,254.8 583.0,249.6 581.5,253.9 580.0,261.0 578.5,261.5 577.0,256.6 575.5,259.1 574.0,260.6 572.5,260.4 571.0,260.8 569.5,264.0 568.0,262.0 566.5,266.3 565.0,267.7 563.5,267.7 562.0,273.1 560.5,282.4 559.0,281.9 557.5,279.9 556.0,270.5 554.5,267.9 553.0,263.3 551.5,267.8 550.0,271.8 548.5,277.4 547.0,275.8 545.5,284.3 544.0,284.8 542.5,292.1 541.0,291.1 539.5,296.8 538.0,306.0 536.5,311.7 535.0,321.2 533.5,329.8 532.0,340.2 530.5,355.9 529.0,369.5 527.5,380.4 526.0,395.2 524.5,408.7 523.0,422.2 521.5,440.3 520.0,456.4 518.5,479.0 517.0,497.4 515.5,513.0 514.0,529.3 512.5,543.1 511.0,553.8 509.5,570.1 508.0,574.3 506.5,578.4 505.0,577.0 503.5,568.9 502.0,564.8 500.5,559.6 499.0,553.5 497.5,542.9 496.0,530.8 494.5,519.1 493.0,504.7 491.5,482.3 490.0,454.3 488.5,425.9 487.0,404.7 485.5,390.4 484.0,368.1 482.5,338.4 481.0,309.3 479.5,288.1 478.0,273.3 476.5,256.3 475.0,247.6 473.5,244.8 472.0,245.3 470.5,239.9 469.0,237.3 467.5,226.1 466.0,221.2 464.5,215.9 463.0,213.7 461.5,211.7 460.0,215.2 458.5,221.2 457.0,219.5 455.5,227.3 454.0,227.2 452.5,233.9 451.0,241.0 449.5,242.5 448.0,244.7 446.5,238.9 445.0,238.3 443.5,230.5 442.0,231.6 440.5,249.1 439.0,256.7 437.5,258.0 436.0,261.8 434.5,266.8 433.0,273.8 431.5,285.2 430.0,295.7 428.5,307.3 427.0,319.6 425.5,330.4 424.0,346.7 422.5,354.4 421.0,373.0 419.5,396.5 418.0,415.3 416.5,431.3 415.0,439.8 413.5,449.1 412.0,463.4 410.5,475.5 409.0,483.7 407.5,497.4 406.0,504.4 404.5,517.5 403.0,521.3 401.5,529.0 400.0,531.8 398.5,527.5 397.0,516.2 395.5,505.6 394.0,492.3 392.5,482.1 391.0,468.8 389.5,456.0 388.0,443.2 386.5,425.2 385.0,405.0 383.5,364.6 382.0,339.9 380.5,325.8 379.0,309.3 377.5,291.9 376.0,279.3 374.5,271.5 373.0,261.5 371.5,260.6 370.0,251.7 368.5,252.1 367.0,248.6 365.5,238.6 364.0,232.9 362.5,229.7 361.0,235.4 359.5,242.7 358.0,244.3 356.5,240.2 355.0,241.3 353.5,242.3 352.0,243.8 350.5,247.3 349.0,249.2 347.5,254.1 346.0,252.4 344.5,254.3 343.0,261.1 341.5,266.9 340.0,275.4 338.5,283.8 337.0,295.8 335.5,301.2 334.0,310.5 332.5,316.8 331.0,323.3 329.5,334.1 328.0,341.1 326.5,345.4 325.0,346.8 323.5,355.6 322.0,361.7 320.5,371.5 319.0,382.4 317.5,378.0 316.0,376.0 314.5,376.9 313.0,362.4 311.5,355.0 310.0,349.7 308.5,342.3 307.0,339.3 305.5,330.3 304.0,322.8 302.5,311.7 301.0,306.2 299.5,293.0 298.0,288.1 296.5,284.0 295.0,285.0 293.5,276.6 292.0,274.9 290.5,267.4 289.0,262.5 287.5,264.8 286.0,264.6 284.5,263.1 283.0,262.7 281.5,253.4 280.0,256.2 278.5,254.7 277.0,249.9 275.5,250.3 274.0,250.2 272.5,242.8 271.0,243.3 269.5,248.2 268.0,244.7 266.5,244.7 265.0,236.4 263.5,233.9 262.0,240.4 260.5,236.9 259.0,245.3 257.5,249.2 256.0,257.1 254.5,252.5 253.0,244.1 251.5,245.5 250.0,253.4 248.5,257.0 247.0,260.5 245.5,251.4 244.0,249.5 242.5,244.7 241.0,244.3 239.5,249.9 238.0,254.2 236.5,245.1 235.0,238.3 233.5,234.0 232.0,234.7 230.5,230.7 229.0,229.2 227.5,235.0 226.0,223.7 224.5,223.1 223.0,212.0 221.5,217.1 220.0,226.7 218.5,220.8 217.0,226.6 215.5,212.3 214.0,210.5 212.5,210.8 211.0,204.1 209.5,212.2 208.0,207.9 206.5,204.2 205.0,204.4 203.5,191.0 202.0,198.7 200.5,198.4 199.0,198.9 197.5,202.6 196.0,196.7 194.5,192.3 193.0,193.5 191.5,199.1 190.0,209.6 188.5,213.1 187.0,221.9 185.5,220.1 184.0,222.6 182.5,214.6 181.0,218.6 179.5,221.3 178.0,227.6 176.5,222.0 175.0,216.7 173.5,204.1 172.0,209.0 170.5,207.9 169.0,210.6 167.5,214.2 166.0,210.7 164.5,216.3 163.0,199.7 161.5,196.8 160.0,196.2 158.5,191.2 157.0,186.4 155.5,185.3" fill="#000000"/>
</g>
<clipPath id="c"><rect x="155.4" y="16" width="838" height="677"/></clipPath>
<line x1="155.4" y1="693" x2="155.4" y2="680" stroke="#000" stroke-width="7.5"/>
<line x1="155.4" y1="16" x2="155.4" y2="29" stroke="#000" stroke-width="7.5"/>
<line x1="364.9" y1="693" x2="364.9" y2="680" stroke="#000" stroke-width="7.5"/>
<line x1="364.9" y1="16" x2="364.9" y2="29" stroke="#000" stroke-width="7.5"/>
<line x1="574.4" y1="693" x2="574.4" y2="680" stroke="#000" stroke-width="7.5"/>
<line x1="574.4" y1="16" x2="574.4" y2="29" stroke="#000" stroke-width="7.5"/>
<line x1="783.9" y1="693" x2="783.9" y2="680" stroke="#000" stroke-width="7.5"/>
<line x1="783.9" y1="16" x2="783.9" y2="29" stroke="#000" stroke-width="7.5"/>
<line x1="993.4" y1="693" x2="993.4" y2="680" stroke="#000" stroke-width="7.5"/>
<line x1="993.4" y1="16" x2="993.4" y2="29" stroke="#000" stroke-width="7.5"/>
<line x1="260.2" y1="693" x2="260.2" y2="685.5" stroke="#000" stroke-width="7.5"/>
<line x1="260.2" y1="16" x2="260.2" y2="23.5" stroke="#000" stroke-width="7.5"/>
<line x1="469.7" y1="693" x2="469.7" y2="685.5" stroke="#000" stroke-width="7.5"/>
<line x1="469.7" y1="16" x2="469.7" y2="23.5" stroke="#000" stroke-width="7.5"/>
<line x1="679.1" y1="693" x2="679.1" y2="685.5" stroke="#000" stroke-width="7.5"/>
<line x1="679.1" y1="16" x2="679.1" y2="23.5" stroke="#000" stroke-width="7.5"/>
<line x1="888.7" y1="693" x2="888.7" y2="685.5" stroke="#000" stroke-width="7.5"/>
<line x1="888.7" y1="16" x2="888.7" y2="23.5" stroke="#000" stroke-width="7.5"/>
<line x1="155.4" y1="666.5" x2="168.5" y2="666.5" stroke="#000" stroke-width="7.5"/>
<line x1="993.3" y1="666.5" x2="981.5" y2="666.5" stroke="#000" stroke-width="7.5"/>
<line x1="155.4" y1="558.0" x2="168.5" y2="558.0" stroke="#000" stroke-width="7.5"/>
<line x1="993.3" y1="558.0" x2="981.5" y2="558.0" stroke="#000" stroke-width="7.5"/>
<line x1="155.4" y1="449.5" x2="168.5" y2="449.5" stroke="#000" stroke-width="7.5"/>
<line x1="993.3" y1="449.5" x2="981.5" y2="449.5" stroke="#000" stroke-width="7.5"/>
<line x1="155.4" y1="341.0" x2="168.5" y2="341.0" stroke="#000" stroke-width="7.5"/>
<line x1="993.3" y1="341.0" x2="981.5" y2="341.0" stroke="#000" stroke-width="7.5"/>
<line x1="155.4" y1="232.5" x2="168.5" y2="232.5" stroke="#000" stroke-width="7.5"/>
<line x1="993.3" y1="232.5" x2="981.5" y2="232.5" stroke="#000" stroke-width="7.5"/>
<line x1="155.4" y1="124.0" x2="168.5" y2="124.0" stroke="#000" stroke-width="7.5"/>
<line x1="993.3" y1="124.0" x2="981.5" y2="124.0" stroke="#000" stroke-width="7.5"/>
<line x1="155.4" y1="15.5" x2="168.5" y2="15.5" stroke="#000" stroke-width="7.5"/>
<line x1="993.3" y1="15.5" x2="981.5" y2="15.5" stroke="#000" stroke-width="7.5"/>
<line x1="155.4" y1="612.2" x2="161.5" y2="612.2" stroke="#000" stroke-width="7"/>
<line x1="993.3" y1="612.2" x2="987.5" y2="612.2" stroke="#000" stroke-width="6"/>
<line x1="155.4" y1="503.8" x2="161.5" y2="503.8" stroke="#000" stroke-width="7"/>
<line x1="993.3" y1="503.8" x2="987.5" y2="503.8" stroke="#000" stroke-width="6"/>
<line x1="155.4" y1="395.2" x2="161.5" y2="395.2" stroke="#000" stroke-width="7"/>
<line x1="993.3" y1="395.2" x2="987.5" y2="395.2" stroke="#000" stroke-width="6"/>
<line x1="155.4" y1="286.7" x2="161.5" y2="286.7" stroke="#000" stroke-width="7"/>
<line x1="993.3" y1="286.7" x2="987.5" y2="286.7" stroke="#000" stroke-width="6"/>
<line x1="155.4" y1="178.2" x2="161.5" y2="178.2" stroke="#000" stroke-width="7"/>
<line x1="993.3" y1="178.2" x2="987.5" y2="178.2" stroke="#000" stroke-width="6"/>
<line x1="155.4" y1="69.8" x2="161.5" y2="69.8" stroke="#000" stroke-width="7"/>
<line x1="993.3" y1="69.8" x2="987.5" y2="69.8" stroke="#000" stroke-width="6"/>
<rect x="155.4" y="16.2" width="837.9" height="676.8" fill="none" stroke="#000" stroke-width="7.8"/>
<text x="141.5" y="676.1" text-anchor="end" class="tk">0.0</text>
<text x="141.5" y="567.6" text-anchor="end" class="tk">0.2</text>
<text x="141.5" y="459.1" text-anchor="end" class="tk">0.4</text>
<text x="141.5" y="350.6" text-anchor="end" class="tk">0.6</text>
<text x="141.5" y="242.1" text-anchor="end" class="tk">0.8</text>
<text x="141.5" y="133.6" text-anchor="end" class="tk">.0</text>
<path d="M99.6 134.0 L105.2 134.0 L105.2 107.6 L100.9 107.6 Q97.5 112.1 93.0 113.6 L93.0 118.6 Q97 117.1 99.6 114.6 Z" fill="#000"/>
<text x="141.5" y="25.1" text-anchor="end" class="tk">.2</text>
<path d="M99.6 25.5 L105.2 25.5 L105.2 -0.9 L100.9 -0.9 Q97.5 3.6 93.0 5.1 L93.0 10.1 Q97 8.6 99.6 6.1 Z" fill="#000"/>
<text x="154.6" y="733.5" text-anchor="middle" class="tk">400</text>
<text x="364.1" y="733.5" text-anchor="middle" class="tk">450</text>
<text x="573.6" y="733.5" text-anchor="middle" class="tk">500</text>
<text x="783.1" y="733.5" text-anchor="middle" class="tk">550</text>
<text x="992.6" y="733.5" text-anchor="middle" class="tk">600</text>
<text x="376.6" y="810.5" style="font-size:46px" transform="translate(376.6 0) scale(0.97 1) translate(-376.6 0)">Wavelength (nm)</text>
<text x="0" y="0" style="font-size:46px" transform="translate(34.6 515.4) rotate(-90) scale(0.973 1)">Reflectivity (a.u.)</text>
<line x1="648" y1="61.5" x2="719" y2="61.5" stroke="#0000ff" stroke-width="5.5" stroke-linecap="round"/>
<line x1="648" y1="102" x2="719" y2="102" stroke="#ff0000" stroke-width="5.5" stroke-linecap="round"/>
<line x1="648" y1="142.5" x2="719" y2="142.5" stroke="#000" stroke-width="5.5" stroke-linecap="round"/>
<text x="726.5" y="71.3" class="lg">n-GaN/GaN DBR</text>
<text x="726.5" y="111.8" class="lg">Dielectric DBR</text>
<text x="726.5" y="152.3" class="lg">Microcavity</text>
</svg>
</body></html>
